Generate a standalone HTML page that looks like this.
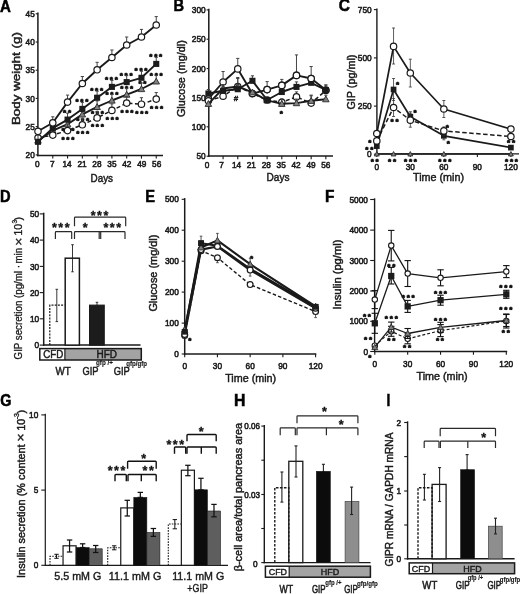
<!DOCTYPE html>
<html><head><meta charset="utf-8"><title>Figure</title>
<style>html,body{margin:0;padding:0;background:#fff}svg{display:block}</style></head>
<body>
<svg width="520" height="594" viewBox="0 0 520 594" font-family='"Liberation Sans", sans-serif'>
<rect width="520" height="594" fill="#fff"/>
<text x="0.00" y="11.50" font-size="15.8" text-anchor="start" font-weight="bold" textLength="10.9" lengthAdjust="spacingAndGlyphs" fill="#000" stroke="#000" stroke-width="0.5">A</text>
<line x1="37.90" y1="12.60" x2="37.90" y2="156.15" stroke="#1a1a1a" stroke-width="1.5" stroke-linecap="butt"/>
<line x1="37.15" y1="155.40" x2="163.00" y2="155.40" stroke="#1a1a1a" stroke-width="1.5" stroke-linecap="butt"/>
<line x1="35.70" y1="13.80" x2="37.90" y2="13.80" stroke="#1a1a1a" stroke-width="1.1" stroke-linecap="butt"/>
<text x="34.80" y="16.97" font-size="8.8" text-anchor="end" textLength="9.2" lengthAdjust="spacingAndGlyphs" fill="#1a1a1a" stroke="#1a1a1a" stroke-width="0.55">45</text>
<line x1="35.70" y1="42.00" x2="37.90" y2="42.00" stroke="#1a1a1a" stroke-width="1.1" stroke-linecap="butt"/>
<text x="34.80" y="45.17" font-size="8.8" text-anchor="end" textLength="9.2" lengthAdjust="spacingAndGlyphs" fill="#1a1a1a" stroke="#1a1a1a" stroke-width="0.55">40</text>
<line x1="35.70" y1="70.20" x2="37.90" y2="70.20" stroke="#1a1a1a" stroke-width="1.1" stroke-linecap="butt"/>
<text x="34.80" y="73.37" font-size="8.8" text-anchor="end" textLength="9.2" lengthAdjust="spacingAndGlyphs" fill="#1a1a1a" stroke="#1a1a1a" stroke-width="0.55">35</text>
<line x1="35.70" y1="98.40" x2="37.90" y2="98.40" stroke="#1a1a1a" stroke-width="1.1" stroke-linecap="butt"/>
<text x="34.80" y="101.57" font-size="8.8" text-anchor="end" textLength="9.2" lengthAdjust="spacingAndGlyphs" fill="#1a1a1a" stroke="#1a1a1a" stroke-width="0.55">30</text>
<line x1="35.70" y1="126.60" x2="37.90" y2="126.60" stroke="#1a1a1a" stroke-width="1.1" stroke-linecap="butt"/>
<text x="34.80" y="129.77" font-size="8.8" text-anchor="end" textLength="9.2" lengthAdjust="spacingAndGlyphs" fill="#1a1a1a" stroke="#1a1a1a" stroke-width="0.55">25</text>
<line x1="35.70" y1="154.90" x2="37.90" y2="154.90" stroke="#1a1a1a" stroke-width="1.1" stroke-linecap="butt"/>
<text x="34.80" y="158.07" font-size="8.8" text-anchor="end" textLength="9.2" lengthAdjust="spacingAndGlyphs" fill="#1a1a1a" stroke="#1a1a1a" stroke-width="0.55">20</text>
<line x1="52.78" y1="155.40" x2="52.78" y2="158.60" stroke="#1a1a1a" stroke-width="1.1" stroke-linecap="butt"/>
<text x="52.18" y="167.37" font-size="8.8" text-anchor="middle" textLength="4.6" lengthAdjust="spacingAndGlyphs" fill="#1a1a1a" stroke="#1a1a1a" stroke-width="0.55">7</text>
<line x1="67.56" y1="155.40" x2="67.56" y2="158.60" stroke="#1a1a1a" stroke-width="1.1" stroke-linecap="butt"/>
<text x="67.11" y="167.37" font-size="8.8" text-anchor="middle" textLength="9.2" lengthAdjust="spacingAndGlyphs" fill="#1a1a1a" stroke="#1a1a1a" stroke-width="0.55">14</text>
<line x1="82.34" y1="155.40" x2="82.34" y2="158.60" stroke="#1a1a1a" stroke-width="1.1" stroke-linecap="butt"/>
<text x="82.04" y="167.37" font-size="8.8" text-anchor="middle" textLength="9.2" lengthAdjust="spacingAndGlyphs" fill="#1a1a1a" stroke="#1a1a1a" stroke-width="0.55">21</text>
<line x1="97.12" y1="155.40" x2="97.12" y2="158.60" stroke="#1a1a1a" stroke-width="1.1" stroke-linecap="butt"/>
<text x="96.97" y="167.37" font-size="8.8" text-anchor="middle" textLength="9.2" lengthAdjust="spacingAndGlyphs" fill="#1a1a1a" stroke="#1a1a1a" stroke-width="0.55">28</text>
<line x1="111.90" y1="155.40" x2="111.90" y2="158.60" stroke="#1a1a1a" stroke-width="1.1" stroke-linecap="butt"/>
<text x="111.90" y="167.37" font-size="8.8" text-anchor="middle" textLength="9.2" lengthAdjust="spacingAndGlyphs" fill="#1a1a1a" stroke="#1a1a1a" stroke-width="0.55">35</text>
<line x1="126.68" y1="155.40" x2="126.68" y2="158.60" stroke="#1a1a1a" stroke-width="1.1" stroke-linecap="butt"/>
<text x="126.83" y="167.37" font-size="8.8" text-anchor="middle" textLength="9.2" lengthAdjust="spacingAndGlyphs" fill="#1a1a1a" stroke="#1a1a1a" stroke-width="0.55">42</text>
<line x1="141.46" y1="155.40" x2="141.46" y2="158.60" stroke="#1a1a1a" stroke-width="1.1" stroke-linecap="butt"/>
<text x="141.76" y="167.37" font-size="8.8" text-anchor="middle" textLength="9.2" lengthAdjust="spacingAndGlyphs" fill="#1a1a1a" stroke="#1a1a1a" stroke-width="0.55">49</text>
<line x1="156.24" y1="155.40" x2="156.24" y2="158.60" stroke="#1a1a1a" stroke-width="1.1" stroke-linecap="butt"/>
<text x="156.69" y="167.37" font-size="8.8" text-anchor="middle" textLength="9.2" lengthAdjust="spacingAndGlyphs" fill="#1a1a1a" stroke="#1a1a1a" stroke-width="0.55">56</text>
<text x="37.40" y="167.37" font-size="8.8" text-anchor="middle" textLength="4.6" lengthAdjust="spacingAndGlyphs" fill="#1a1a1a" stroke="#1a1a1a" stroke-width="0.55">0</text>
<text x="19.80" y="78.60" font-size="10" text-anchor="middle" transform="rotate(-90 19.80 78.60)" textLength="93.0" lengthAdjust="spacingAndGlyphs" fill="#1a1a1a" stroke="#1a1a1a" stroke-width="0.45">Body weight (g)</text>
<text x="101.80" y="181.60" font-size="10.5" text-anchor="middle" textLength="22.5" lengthAdjust="spacingAndGlyphs" fill="#1a1a1a" stroke="#1a1a1a" stroke-width="0.45">Days</text>
<text x="64.61 69.51" y="115.08" font-size="8" font-weight="bold" text-anchor="middle" fill="#111" stroke="#111" stroke-width="0.7">**</text>
<text x="62.96 67.86 72.76" y="132.98" font-size="8" font-weight="bold" text-anchor="middle" fill="#111" stroke="#111" stroke-width="0.7">***</text>
<text x="62.96 67.86 72.76" y="142.18" font-size="8" font-weight="bold" text-anchor="middle" fill="#111" stroke="#111" stroke-width="0.7">***</text>
<text x="76.94 81.84 86.74" y="104.38" font-size="8" font-weight="bold" text-anchor="middle" fill="#111" stroke="#111" stroke-width="0.7">***</text>
<text x="77.74 82.64 87.54" y="123.18" font-size="8" font-weight="bold" text-anchor="middle" fill="#111" stroke="#111" stroke-width="0.7">***</text>
<text x="77.74 82.64 87.54" y="136.38" font-size="8" font-weight="bold" text-anchor="middle" fill="#111" stroke="#111" stroke-width="0.7">***</text>
<text x="91.72 96.62 101.52" y="93.18" font-size="8" font-weight="bold" text-anchor="middle" fill="#111" stroke="#111" stroke-width="0.7">***</text>
<text x="92.52 97.42 102.32" y="115.68" font-size="8" font-weight="bold" text-anchor="middle" fill="#111" stroke="#111" stroke-width="0.7">***</text>
<text x="92.52 97.42 102.32" y="129.48" font-size="8" font-weight="bold" text-anchor="middle" fill="#111" stroke="#111" stroke-width="0.7">***</text>
<text x="106.50 111.40 116.30" y="82.38" font-size="8" font-weight="bold" text-anchor="middle" fill="#111" stroke="#111" stroke-width="0.7">***</text>
<text x="107.00 111.90 116.80" y="97.18" font-size="8" font-weight="bold" text-anchor="middle" fill="#111" stroke="#111" stroke-width="0.7">***</text>
<text x="107.30 112.20 117.10" y="121.98" font-size="8" font-weight="bold" text-anchor="middle" fill="#111" stroke="#111" stroke-width="0.7">***</text>
<text x="121.28 126.18 131.08" y="77.58" font-size="8" font-weight="bold" text-anchor="middle" fill="#111" stroke="#111" stroke-width="0.7">***</text>
<text x="121.78 126.68 131.58" y="91.28" font-size="8" font-weight="bold" text-anchor="middle" fill="#111" stroke="#111" stroke-width="0.7">***</text>
<text x="122.08 126.98 131.88" y="114.68" font-size="8" font-weight="bold" text-anchor="middle" fill="#111" stroke="#111" stroke-width="0.7">***</text>
<text x="136.06 140.96 145.86" y="73.28" font-size="8" font-weight="bold" text-anchor="middle" fill="#111" stroke="#111" stroke-width="0.7">***</text>
<text x="140.01 144.91" y="85.68" font-size="8" font-weight="bold" text-anchor="middle" fill="#111" stroke="#111" stroke-width="0.7">**</text>
<text x="136.86 141.76 146.66" y="115.78" font-size="8" font-weight="bold" text-anchor="middle" fill="#111" stroke="#111" stroke-width="0.7">***</text>
<text x="150.84 155.74 160.64" y="59.38" font-size="8" font-weight="bold" text-anchor="middle" fill="#111" stroke="#111" stroke-width="0.7">***</text>
<text x="151.34 156.24 161.14" y="78.08" font-size="8" font-weight="bold" text-anchor="middle" fill="#111" stroke="#111" stroke-width="0.7">***</text>
<text x="151.64 156.54 161.44" y="110.68" font-size="8" font-weight="bold" text-anchor="middle" fill="#111" stroke="#111" stroke-width="0.7">***</text>
<line x1="38.00" y1="134.50" x2="38.00" y2="140.50" stroke="#444" stroke-width="1.0" stroke-linecap="butt"/>
<line x1="36.40" y1="134.50" x2="39.60" y2="134.50" stroke="#444" stroke-width="1.0" stroke-linecap="butt"/>
<line x1="36.40" y1="140.50" x2="39.60" y2="140.50" stroke="#444" stroke-width="1.0" stroke-linecap="butt"/>
<line x1="52.78" y1="124.60" x2="52.78" y2="130.60" stroke="#444" stroke-width="1.0" stroke-linecap="butt"/>
<line x1="51.18" y1="124.60" x2="54.38" y2="124.60" stroke="#444" stroke-width="1.0" stroke-linecap="butt"/>
<line x1="51.18" y1="130.60" x2="54.38" y2="130.60" stroke="#444" stroke-width="1.0" stroke-linecap="butt"/>
<line x1="67.56" y1="118.20" x2="67.56" y2="124.20" stroke="#444" stroke-width="1.0" stroke-linecap="butt"/>
<line x1="65.96" y1="118.20" x2="69.16" y2="118.20" stroke="#444" stroke-width="1.0" stroke-linecap="butt"/>
<line x1="65.96" y1="124.20" x2="69.16" y2="124.20" stroke="#444" stroke-width="1.0" stroke-linecap="butt"/>
<line x1="82.34" y1="108.40" x2="82.34" y2="114.40" stroke="#444" stroke-width="1.0" stroke-linecap="butt"/>
<line x1="80.74" y1="108.40" x2="83.94" y2="108.40" stroke="#444" stroke-width="1.0" stroke-linecap="butt"/>
<line x1="80.74" y1="114.40" x2="83.94" y2="114.40" stroke="#444" stroke-width="1.0" stroke-linecap="butt"/>
<line x1="97.12" y1="100.90" x2="97.12" y2="106.90" stroke="#444" stroke-width="1.0" stroke-linecap="butt"/>
<line x1="95.52" y1="100.90" x2="98.72" y2="100.90" stroke="#444" stroke-width="1.0" stroke-linecap="butt"/>
<line x1="95.52" y1="106.90" x2="98.72" y2="106.90" stroke="#444" stroke-width="1.0" stroke-linecap="butt"/>
<line x1="111.90" y1="94.50" x2="111.90" y2="100.50" stroke="#444" stroke-width="1.0" stroke-linecap="butt"/>
<line x1="110.30" y1="94.50" x2="113.50" y2="94.50" stroke="#444" stroke-width="1.0" stroke-linecap="butt"/>
<line x1="110.30" y1="100.50" x2="113.50" y2="100.50" stroke="#444" stroke-width="1.0" stroke-linecap="butt"/>
<line x1="126.68" y1="88.60" x2="126.68" y2="94.60" stroke="#444" stroke-width="1.0" stroke-linecap="butt"/>
<line x1="125.08" y1="88.60" x2="128.28" y2="88.60" stroke="#444" stroke-width="1.0" stroke-linecap="butt"/>
<line x1="125.08" y1="94.60" x2="128.28" y2="94.60" stroke="#444" stroke-width="1.0" stroke-linecap="butt"/>
<line x1="141.46" y1="83.00" x2="141.46" y2="89.00" stroke="#444" stroke-width="1.0" stroke-linecap="butt"/>
<line x1="139.86" y1="83.00" x2="143.06" y2="83.00" stroke="#444" stroke-width="1.0" stroke-linecap="butt"/>
<line x1="139.86" y1="89.00" x2="143.06" y2="89.00" stroke="#444" stroke-width="1.0" stroke-linecap="butt"/>
<line x1="156.24" y1="75.40" x2="156.24" y2="81.40" stroke="#444" stroke-width="1.0" stroke-linecap="butt"/>
<line x1="154.64" y1="75.40" x2="157.84" y2="75.40" stroke="#444" stroke-width="1.0" stroke-linecap="butt"/>
<line x1="154.64" y1="81.40" x2="157.84" y2="81.40" stroke="#444" stroke-width="1.0" stroke-linecap="butt"/>
<polyline points="38.00,140.50 52.78,130.60 67.56,124.20 82.34,114.40 97.12,106.90 111.90,100.50 126.68,94.60 141.46,89.00 156.24,81.40" fill="none" stroke="#1a1a1a" stroke-width="1.9" stroke-linejoin="round"/>
<polygon points="38.00,137.24 34.74,143.11 41.26,143.11" fill="#808080" stroke="#2a2a2a" stroke-width="0.9" stroke-linejoin="round"/>
<polygon points="52.78,127.34 49.52,133.21 56.04,133.21" fill="#808080" stroke="#2a2a2a" stroke-width="0.9" stroke-linejoin="round"/>
<polygon points="67.56,120.94 64.30,126.81 70.82,126.81" fill="#808080" stroke="#2a2a2a" stroke-width="0.9" stroke-linejoin="round"/>
<polygon points="82.34,111.14 79.08,117.01 85.60,117.01" fill="#808080" stroke="#2a2a2a" stroke-width="0.9" stroke-linejoin="round"/>
<polygon points="97.12,103.64 93.86,109.51 100.38,109.51" fill="#808080" stroke="#2a2a2a" stroke-width="0.9" stroke-linejoin="round"/>
<polygon points="111.90,97.24 108.64,103.11 115.16,103.11" fill="#808080" stroke="#2a2a2a" stroke-width="0.9" stroke-linejoin="round"/>
<polygon points="126.68,91.34 123.42,97.21 129.94,97.21" fill="#808080" stroke="#2a2a2a" stroke-width="0.9" stroke-linejoin="round"/>
<polygon points="141.46,85.74 138.20,91.61 144.72,91.61" fill="#808080" stroke="#2a2a2a" stroke-width="0.9" stroke-linejoin="round"/>
<polygon points="156.24,78.14 152.98,84.01 159.50,84.01" fill="#808080" stroke="#2a2a2a" stroke-width="0.9" stroke-linejoin="round"/>
<line x1="38.00" y1="131.30" x2="38.00" y2="137.80" stroke="#444" stroke-width="1.0" stroke-linecap="butt"/>
<line x1="36.40" y1="131.30" x2="39.60" y2="131.30" stroke="#444" stroke-width="1.0" stroke-linecap="butt"/>
<line x1="36.40" y1="137.80" x2="39.60" y2="137.80" stroke="#444" stroke-width="1.0" stroke-linecap="butt"/>
<line x1="52.78" y1="128.60" x2="52.78" y2="135.10" stroke="#444" stroke-width="1.0" stroke-linecap="butt"/>
<line x1="51.18" y1="128.60" x2="54.38" y2="128.60" stroke="#444" stroke-width="1.0" stroke-linecap="butt"/>
<line x1="51.18" y1="135.10" x2="54.38" y2="135.10" stroke="#444" stroke-width="1.0" stroke-linecap="butt"/>
<line x1="67.56" y1="124.10" x2="67.56" y2="130.60" stroke="#444" stroke-width="1.0" stroke-linecap="butt"/>
<line x1="65.96" y1="124.10" x2="69.16" y2="124.10" stroke="#444" stroke-width="1.0" stroke-linecap="butt"/>
<line x1="65.96" y1="130.60" x2="69.16" y2="130.60" stroke="#444" stroke-width="1.0" stroke-linecap="butt"/>
<line x1="82.34" y1="118.30" x2="82.34" y2="124.80" stroke="#444" stroke-width="1.0" stroke-linecap="butt"/>
<line x1="80.74" y1="118.30" x2="83.94" y2="118.30" stroke="#444" stroke-width="1.0" stroke-linecap="butt"/>
<line x1="80.74" y1="124.80" x2="83.94" y2="124.80" stroke="#444" stroke-width="1.0" stroke-linecap="butt"/>
<line x1="97.12" y1="111.40" x2="97.12" y2="117.90" stroke="#444" stroke-width="1.0" stroke-linecap="butt"/>
<line x1="95.52" y1="111.40" x2="98.72" y2="111.40" stroke="#444" stroke-width="1.0" stroke-linecap="butt"/>
<line x1="95.52" y1="117.90" x2="98.72" y2="117.90" stroke="#444" stroke-width="1.0" stroke-linecap="butt"/>
<line x1="111.90" y1="103.90" x2="111.90" y2="110.40" stroke="#444" stroke-width="1.0" stroke-linecap="butt"/>
<line x1="110.30" y1="103.90" x2="113.50" y2="103.90" stroke="#444" stroke-width="1.0" stroke-linecap="butt"/>
<line x1="110.30" y1="110.40" x2="113.50" y2="110.40" stroke="#444" stroke-width="1.0" stroke-linecap="butt"/>
<line x1="126.68" y1="96.60" x2="126.68" y2="103.10" stroke="#444" stroke-width="1.0" stroke-linecap="butt"/>
<line x1="125.08" y1="96.60" x2="128.28" y2="96.60" stroke="#444" stroke-width="1.0" stroke-linecap="butt"/>
<line x1="125.08" y1="103.10" x2="128.28" y2="103.10" stroke="#444" stroke-width="1.0" stroke-linecap="butt"/>
<line x1="141.46" y1="97.70" x2="141.46" y2="104.20" stroke="#444" stroke-width="1.0" stroke-linecap="butt"/>
<line x1="139.86" y1="97.70" x2="143.06" y2="97.70" stroke="#444" stroke-width="1.0" stroke-linecap="butt"/>
<line x1="139.86" y1="104.20" x2="143.06" y2="104.20" stroke="#444" stroke-width="1.0" stroke-linecap="butt"/>
<line x1="156.24" y1="92.60" x2="156.24" y2="99.10" stroke="#444" stroke-width="1.0" stroke-linecap="butt"/>
<line x1="154.64" y1="92.60" x2="157.84" y2="92.60" stroke="#444" stroke-width="1.0" stroke-linecap="butt"/>
<line x1="154.64" y1="99.10" x2="157.84" y2="99.10" stroke="#444" stroke-width="1.0" stroke-linecap="butt"/>
<polyline points="38.00,137.80 52.78,135.10 67.56,130.60 82.34,124.80 97.12,117.90 111.90,110.40 126.68,103.10 141.46,104.20 156.24,99.10" fill="none" stroke="#1a1a1a" stroke-width="1.5" stroke-dasharray="4 2.5" stroke-linejoin="round"/>
<circle cx="38.00" cy="137.80" r="3.2" fill="#fff" stroke="#1a1a1a" stroke-width="1.2"/>
<circle cx="52.78" cy="135.10" r="3.2" fill="#fff" stroke="#1a1a1a" stroke-width="1.2"/>
<circle cx="67.56" cy="130.60" r="3.2" fill="#fff" stroke="#1a1a1a" stroke-width="1.2"/>
<circle cx="82.34" cy="124.80" r="3.2" fill="#fff" stroke="#1a1a1a" stroke-width="1.2"/>
<circle cx="97.12" cy="117.90" r="3.2" fill="#fff" stroke="#1a1a1a" stroke-width="1.2"/>
<circle cx="111.90" cy="110.40" r="3.2" fill="#fff" stroke="#1a1a1a" stroke-width="1.2"/>
<circle cx="126.68" cy="103.10" r="3.2" fill="#fff" stroke="#1a1a1a" stroke-width="1.2"/>
<circle cx="141.46" cy="104.20" r="3.2" fill="#fff" stroke="#1a1a1a" stroke-width="1.2"/>
<circle cx="156.24" cy="99.10" r="3.2" fill="#fff" stroke="#1a1a1a" stroke-width="1.2"/>
<line x1="38.00" y1="135.30" x2="38.00" y2="141.80" stroke="#444" stroke-width="1.0" stroke-linecap="butt"/>
<line x1="36.40" y1="135.30" x2="39.60" y2="135.30" stroke="#444" stroke-width="1.0" stroke-linecap="butt"/>
<line x1="36.40" y1="141.80" x2="39.60" y2="141.80" stroke="#444" stroke-width="1.0" stroke-linecap="butt"/>
<line x1="52.78" y1="121.60" x2="52.78" y2="128.10" stroke="#444" stroke-width="1.0" stroke-linecap="butt"/>
<line x1="51.18" y1="121.60" x2="54.38" y2="121.60" stroke="#444" stroke-width="1.0" stroke-linecap="butt"/>
<line x1="51.18" y1="128.10" x2="54.38" y2="128.10" stroke="#444" stroke-width="1.0" stroke-linecap="butt"/>
<line x1="67.56" y1="113.10" x2="67.56" y2="119.60" stroke="#444" stroke-width="1.0" stroke-linecap="butt"/>
<line x1="65.96" y1="113.10" x2="69.16" y2="113.10" stroke="#444" stroke-width="1.0" stroke-linecap="butt"/>
<line x1="65.96" y1="119.60" x2="69.16" y2="119.60" stroke="#444" stroke-width="1.0" stroke-linecap="butt"/>
<line x1="82.34" y1="102.40" x2="82.34" y2="108.90" stroke="#444" stroke-width="1.0" stroke-linecap="butt"/>
<line x1="80.74" y1="102.40" x2="83.94" y2="102.40" stroke="#444" stroke-width="1.0" stroke-linecap="butt"/>
<line x1="80.74" y1="108.90" x2="83.94" y2="108.90" stroke="#444" stroke-width="1.0" stroke-linecap="butt"/>
<line x1="97.12" y1="91.20" x2="97.12" y2="97.70" stroke="#444" stroke-width="1.0" stroke-linecap="butt"/>
<line x1="95.52" y1="91.20" x2="98.72" y2="91.20" stroke="#444" stroke-width="1.0" stroke-linecap="butt"/>
<line x1="95.52" y1="97.70" x2="98.72" y2="97.70" stroke="#444" stroke-width="1.0" stroke-linecap="butt"/>
<line x1="111.90" y1="80.40" x2="111.90" y2="86.90" stroke="#444" stroke-width="1.0" stroke-linecap="butt"/>
<line x1="110.30" y1="80.40" x2="113.50" y2="80.40" stroke="#444" stroke-width="1.0" stroke-linecap="butt"/>
<line x1="110.30" y1="86.90" x2="113.50" y2="86.90" stroke="#444" stroke-width="1.0" stroke-linecap="butt"/>
<line x1="126.68" y1="75.60" x2="126.68" y2="82.10" stroke="#444" stroke-width="1.0" stroke-linecap="butt"/>
<line x1="125.08" y1="75.60" x2="128.28" y2="75.60" stroke="#444" stroke-width="1.0" stroke-linecap="butt"/>
<line x1="125.08" y1="82.10" x2="128.28" y2="82.10" stroke="#444" stroke-width="1.0" stroke-linecap="butt"/>
<line x1="141.46" y1="71.30" x2="141.46" y2="77.80" stroke="#444" stroke-width="1.0" stroke-linecap="butt"/>
<line x1="139.86" y1="71.30" x2="143.06" y2="71.30" stroke="#444" stroke-width="1.0" stroke-linecap="butt"/>
<line x1="139.86" y1="77.80" x2="143.06" y2="77.80" stroke="#444" stroke-width="1.0" stroke-linecap="butt"/>
<line x1="156.24" y1="57.40" x2="156.24" y2="63.90" stroke="#444" stroke-width="1.0" stroke-linecap="butt"/>
<line x1="154.64" y1="57.40" x2="157.84" y2="57.40" stroke="#444" stroke-width="1.0" stroke-linecap="butt"/>
<line x1="154.64" y1="63.90" x2="157.84" y2="63.90" stroke="#444" stroke-width="1.0" stroke-linecap="butt"/>
<polyline points="38.00,141.80 52.78,128.10 67.56,119.60 82.34,108.90 97.12,97.70 111.90,86.90 126.68,82.10 141.46,77.80 156.24,63.90" fill="none" stroke="#1a1a1a" stroke-width="1.9" stroke-linejoin="round"/>
<rect x="34.96" y="138.76" width="6.08" height="6.08" fill="#1c1c1c"/>
<rect x="49.74" y="125.06" width="6.08" height="6.08" fill="#1c1c1c"/>
<rect x="64.52" y="116.56" width="6.08" height="6.08" fill="#1c1c1c"/>
<rect x="79.30" y="105.86" width="6.08" height="6.08" fill="#1c1c1c"/>
<rect x="94.08" y="94.66" width="6.08" height="6.08" fill="#1c1c1c"/>
<rect x="108.86" y="83.86" width="6.08" height="6.08" fill="#1c1c1c"/>
<rect x="123.64" y="79.06" width="6.08" height="6.08" fill="#1c1c1c"/>
<rect x="138.42" y="74.76" width="6.08" height="6.08" fill="#1c1c1c"/>
<rect x="153.20" y="60.86" width="6.08" height="6.08" fill="#1c1c1c"/>
<line x1="52.78" y1="116.80" x2="52.78" y2="122.80" stroke="#444" stroke-width="1.0" stroke-linecap="butt"/>
<line x1="51.18" y1="116.80" x2="54.38" y2="116.80" stroke="#444" stroke-width="1.0" stroke-linecap="butt"/>
<line x1="51.18" y1="122.80" x2="54.38" y2="122.80" stroke="#444" stroke-width="1.0" stroke-linecap="butt"/>
<line x1="67.56" y1="95.10" x2="67.56" y2="102.10" stroke="#444" stroke-width="1.0" stroke-linecap="butt"/>
<line x1="65.96" y1="95.10" x2="69.16" y2="95.10" stroke="#444" stroke-width="1.0" stroke-linecap="butt"/>
<line x1="65.96" y1="102.10" x2="69.16" y2="102.10" stroke="#444" stroke-width="1.0" stroke-linecap="butt"/>
<line x1="82.34" y1="76.50" x2="82.34" y2="83.50" stroke="#444" stroke-width="1.0" stroke-linecap="butt"/>
<line x1="80.74" y1="76.50" x2="83.94" y2="76.50" stroke="#444" stroke-width="1.0" stroke-linecap="butt"/>
<line x1="80.74" y1="83.50" x2="83.94" y2="83.50" stroke="#444" stroke-width="1.0" stroke-linecap="butt"/>
<line x1="97.12" y1="62.30" x2="97.12" y2="69.80" stroke="#444" stroke-width="1.0" stroke-linecap="butt"/>
<line x1="95.52" y1="62.30" x2="98.72" y2="62.30" stroke="#444" stroke-width="1.0" stroke-linecap="butt"/>
<line x1="95.52" y1="69.80" x2="98.72" y2="69.80" stroke="#444" stroke-width="1.0" stroke-linecap="butt"/>
<line x1="111.90" y1="50.00" x2="111.90" y2="57.50" stroke="#444" stroke-width="1.0" stroke-linecap="butt"/>
<line x1="110.30" y1="50.00" x2="113.50" y2="50.00" stroke="#444" stroke-width="1.0" stroke-linecap="butt"/>
<line x1="110.30" y1="57.50" x2="113.50" y2="57.50" stroke="#444" stroke-width="1.0" stroke-linecap="butt"/>
<line x1="126.68" y1="37.00" x2="126.68" y2="45.00" stroke="#444" stroke-width="1.0" stroke-linecap="butt"/>
<line x1="125.08" y1="37.00" x2="128.28" y2="37.00" stroke="#444" stroke-width="1.0" stroke-linecap="butt"/>
<line x1="125.08" y1="45.00" x2="128.28" y2="45.00" stroke="#444" stroke-width="1.0" stroke-linecap="butt"/>
<line x1="141.46" y1="29.40" x2="141.46" y2="37.00" stroke="#444" stroke-width="1.0" stroke-linecap="butt"/>
<line x1="139.86" y1="29.40" x2="143.06" y2="29.40" stroke="#444" stroke-width="1.0" stroke-linecap="butt"/>
<line x1="139.86" y1="37.00" x2="143.06" y2="37.00" stroke="#444" stroke-width="1.0" stroke-linecap="butt"/>
<line x1="156.24" y1="16.60" x2="156.24" y2="25.00" stroke="#444" stroke-width="1.0" stroke-linecap="butt"/>
<line x1="154.64" y1="16.60" x2="157.84" y2="16.60" stroke="#444" stroke-width="1.0" stroke-linecap="butt"/>
<line x1="154.64" y1="25.00" x2="157.84" y2="25.00" stroke="#444" stroke-width="1.0" stroke-linecap="butt"/>
<polyline points="38.00,131.30 52.78,122.80 67.56,102.10 82.34,83.50 97.12,69.80 111.90,57.50 126.68,45.00 141.46,37.00 156.24,25.00" fill="none" stroke="#1a1a1a" stroke-width="1.9" stroke-linejoin="round"/>
<circle cx="38.00" cy="131.30" r="3.2" fill="#fff" stroke="#1a1a1a" stroke-width="1.2"/>
<circle cx="52.78" cy="122.80" r="3.2" fill="#fff" stroke="#1a1a1a" stroke-width="1.2"/>
<circle cx="67.56" cy="102.10" r="3.2" fill="#fff" stroke="#1a1a1a" stroke-width="1.2"/>
<circle cx="82.34" cy="83.50" r="3.2" fill="#fff" stroke="#1a1a1a" stroke-width="1.2"/>
<circle cx="97.12" cy="69.80" r="3.2" fill="#fff" stroke="#1a1a1a" stroke-width="1.2"/>
<circle cx="111.90" cy="57.50" r="3.2" fill="#fff" stroke="#1a1a1a" stroke-width="1.2"/>
<circle cx="126.68" cy="45.00" r="3.2" fill="#fff" stroke="#1a1a1a" stroke-width="1.2"/>
<circle cx="141.46" cy="37.00" r="3.2" fill="#fff" stroke="#1a1a1a" stroke-width="1.2"/>
<circle cx="156.24" cy="25.00" r="3.2" fill="#fff" stroke="#1a1a1a" stroke-width="1.2"/>
<text x="173.40" y="11.20" font-size="15.8" text-anchor="start" font-weight="bold" textLength="10.6" lengthAdjust="spacingAndGlyphs" fill="#000" stroke="#000" stroke-width="0.5">B</text>
<line x1="208.80" y1="8.70" x2="208.80" y2="156.75" stroke="#1a1a1a" stroke-width="1.5" stroke-linecap="butt"/>
<line x1="208.05" y1="156.00" x2="333.00" y2="156.00" stroke="#1a1a1a" stroke-width="1.5" stroke-linecap="butt"/>
<line x1="206.60" y1="9.90" x2="208.80" y2="9.90" stroke="#1a1a1a" stroke-width="1.1" stroke-linecap="butt"/>
<text x="205.70" y="13.07" font-size="8.8" text-anchor="end" textLength="13.9" lengthAdjust="spacingAndGlyphs" fill="#1a1a1a" stroke="#1a1a1a" stroke-width="0.55">300</text>
<line x1="206.60" y1="39.20" x2="208.80" y2="39.20" stroke="#1a1a1a" stroke-width="1.1" stroke-linecap="butt"/>
<text x="205.70" y="42.37" font-size="8.8" text-anchor="end" textLength="13.9" lengthAdjust="spacingAndGlyphs" fill="#1a1a1a" stroke="#1a1a1a" stroke-width="0.55">250</text>
<line x1="206.60" y1="68.60" x2="208.80" y2="68.60" stroke="#1a1a1a" stroke-width="1.1" stroke-linecap="butt"/>
<text x="205.70" y="71.77" font-size="8.8" text-anchor="end" textLength="13.9" lengthAdjust="spacingAndGlyphs" fill="#1a1a1a" stroke="#1a1a1a" stroke-width="0.55">200</text>
<line x1="206.60" y1="97.90" x2="208.80" y2="97.90" stroke="#1a1a1a" stroke-width="1.1" stroke-linecap="butt"/>
<text x="205.70" y="101.07" font-size="8.8" text-anchor="end" textLength="13.9" lengthAdjust="spacingAndGlyphs" fill="#1a1a1a" stroke="#1a1a1a" stroke-width="0.55">150</text>
<line x1="206.60" y1="126.80" x2="208.80" y2="126.80" stroke="#1a1a1a" stroke-width="1.1" stroke-linecap="butt"/>
<text x="205.70" y="129.97" font-size="8.8" text-anchor="end" textLength="13.9" lengthAdjust="spacingAndGlyphs" fill="#1a1a1a" stroke="#1a1a1a" stroke-width="0.55">100</text>
<line x1="206.60" y1="156.20" x2="208.80" y2="156.20" stroke="#1a1a1a" stroke-width="1.1" stroke-linecap="butt"/>
<text x="205.70" y="159.37" font-size="8.8" text-anchor="end" textLength="9.2" lengthAdjust="spacingAndGlyphs" fill="#1a1a1a" stroke="#1a1a1a" stroke-width="0.55">50</text>
<line x1="223.08" y1="156.00" x2="223.08" y2="159.20" stroke="#1a1a1a" stroke-width="1.1" stroke-linecap="butt"/>
<text x="221.58" y="168.27" font-size="8.8" text-anchor="middle" textLength="4.6" lengthAdjust="spacingAndGlyphs" fill="#1a1a1a" stroke="#1a1a1a" stroke-width="0.55">7</text>
<line x1="237.76" y1="156.00" x2="237.76" y2="159.20" stroke="#1a1a1a" stroke-width="1.1" stroke-linecap="butt"/>
<text x="236.48" y="168.27" font-size="8.8" text-anchor="middle" textLength="9.2" lengthAdjust="spacingAndGlyphs" fill="#1a1a1a" stroke="#1a1a1a" stroke-width="0.55">14</text>
<line x1="252.44" y1="156.00" x2="252.44" y2="159.20" stroke="#1a1a1a" stroke-width="1.1" stroke-linecap="butt"/>
<text x="251.38" y="168.27" font-size="8.8" text-anchor="middle" textLength="9.2" lengthAdjust="spacingAndGlyphs" fill="#1a1a1a" stroke="#1a1a1a" stroke-width="0.55">21</text>
<line x1="267.12" y1="156.00" x2="267.12" y2="159.20" stroke="#1a1a1a" stroke-width="1.1" stroke-linecap="butt"/>
<text x="266.28" y="168.27" font-size="8.8" text-anchor="middle" textLength="9.2" lengthAdjust="spacingAndGlyphs" fill="#1a1a1a" stroke="#1a1a1a" stroke-width="0.55">28</text>
<line x1="281.80" y1="156.00" x2="281.80" y2="159.20" stroke="#1a1a1a" stroke-width="1.1" stroke-linecap="butt"/>
<text x="281.18" y="168.27" font-size="8.8" text-anchor="middle" textLength="9.2" lengthAdjust="spacingAndGlyphs" fill="#1a1a1a" stroke="#1a1a1a" stroke-width="0.55">35</text>
<line x1="296.48" y1="156.00" x2="296.48" y2="159.20" stroke="#1a1a1a" stroke-width="1.1" stroke-linecap="butt"/>
<text x="296.08" y="168.27" font-size="8.8" text-anchor="middle" textLength="9.2" lengthAdjust="spacingAndGlyphs" fill="#1a1a1a" stroke="#1a1a1a" stroke-width="0.55">42</text>
<line x1="311.16" y1="156.00" x2="311.16" y2="159.20" stroke="#1a1a1a" stroke-width="1.1" stroke-linecap="butt"/>
<text x="310.98" y="168.27" font-size="8.8" text-anchor="middle" textLength="9.2" lengthAdjust="spacingAndGlyphs" fill="#1a1a1a" stroke="#1a1a1a" stroke-width="0.55">49</text>
<line x1="325.84" y1="156.00" x2="325.84" y2="159.20" stroke="#1a1a1a" stroke-width="1.1" stroke-linecap="butt"/>
<text x="325.88" y="168.27" font-size="8.8" text-anchor="middle" textLength="9.2" lengthAdjust="spacingAndGlyphs" fill="#1a1a1a" stroke="#1a1a1a" stroke-width="0.55">56</text>
<text x="207.00" y="168.27" font-size="8.8" text-anchor="middle" textLength="4.6" lengthAdjust="spacingAndGlyphs" fill="#1a1a1a" stroke="#1a1a1a" stroke-width="0.55">0</text>
<text x="185.20" y="78.60" font-size="10.5" text-anchor="middle" transform="rotate(-90 185.20 78.60)" textLength="77.0" lengthAdjust="spacingAndGlyphs" fill="#1a1a1a" stroke="#1a1a1a" stroke-width="0.45">Glucose (mg/dl)</text>
<text x="278.00" y="181.00" font-size="10.5" text-anchor="middle" textLength="23.0" lengthAdjust="spacingAndGlyphs" fill="#1a1a1a" stroke="#1a1a1a" stroke-width="0.45">Days</text>
<text x="236.00" y="101.00" font-size="8" text-anchor="middle" font-weight="bold" fill="#1a1a1a" stroke="#1a1a1a" stroke-width="0.45">#</text>
<text x="281.20" y="115.88" font-size="8" font-weight="bold" text-anchor="middle" fill="#111" stroke="#111" stroke-width="0.7">*</text>
<line x1="223.08" y1="71.50" x2="223.08" y2="82.00" stroke="#444" stroke-width="1.0" stroke-linecap="butt"/>
<line x1="221.48" y1="71.50" x2="224.68" y2="71.50" stroke="#444" stroke-width="1.0" stroke-linecap="butt"/>
<line x1="221.48" y1="82.00" x2="224.68" y2="82.00" stroke="#444" stroke-width="1.0" stroke-linecap="butt"/>
<line x1="237.76" y1="58.40" x2="237.76" y2="68.90" stroke="#444" stroke-width="1.0" stroke-linecap="butt"/>
<line x1="236.16" y1="58.40" x2="239.36" y2="58.40" stroke="#444" stroke-width="1.0" stroke-linecap="butt"/>
<line x1="236.16" y1="68.90" x2="239.36" y2="68.90" stroke="#444" stroke-width="1.0" stroke-linecap="butt"/>
<line x1="267.12" y1="81.60" x2="267.12" y2="89.60" stroke="#444" stroke-width="1.0" stroke-linecap="butt"/>
<line x1="265.52" y1="81.60" x2="268.72" y2="81.60" stroke="#444" stroke-width="1.0" stroke-linecap="butt"/>
<line x1="265.52" y1="89.60" x2="268.72" y2="89.60" stroke="#444" stroke-width="1.0" stroke-linecap="butt"/>
<line x1="281.80" y1="79.40" x2="281.80" y2="85.40" stroke="#444" stroke-width="1.0" stroke-linecap="butt"/>
<line x1="280.20" y1="79.40" x2="283.40" y2="79.40" stroke="#444" stroke-width="1.0" stroke-linecap="butt"/>
<line x1="280.20" y1="85.40" x2="283.40" y2="85.40" stroke="#444" stroke-width="1.0" stroke-linecap="butt"/>
<line x1="296.48" y1="54.90" x2="296.48" y2="75.40" stroke="#444" stroke-width="1.0" stroke-linecap="butt"/>
<line x1="294.88" y1="54.90" x2="298.08" y2="54.90" stroke="#444" stroke-width="1.0" stroke-linecap="butt"/>
<line x1="294.88" y1="75.40" x2="298.08" y2="75.40" stroke="#444" stroke-width="1.0" stroke-linecap="butt"/>
<line x1="311.16" y1="66.50" x2="311.16" y2="78.50" stroke="#444" stroke-width="1.0" stroke-linecap="butt"/>
<line x1="309.56" y1="66.50" x2="312.76" y2="66.50" stroke="#444" stroke-width="1.0" stroke-linecap="butt"/>
<line x1="309.56" y1="78.50" x2="312.76" y2="78.50" stroke="#444" stroke-width="1.0" stroke-linecap="butt"/>
<line x1="325.84" y1="85.00" x2="325.84" y2="90.00" stroke="#444" stroke-width="1.0" stroke-linecap="butt"/>
<line x1="324.24" y1="85.00" x2="327.44" y2="85.00" stroke="#444" stroke-width="1.0" stroke-linecap="butt"/>
<line x1="324.24" y1="90.00" x2="327.44" y2="90.00" stroke="#444" stroke-width="1.0" stroke-linecap="butt"/>
<polyline points="208.40,98.90 223.08,82.00 237.76,68.90 252.44,93.80 267.12,89.60 281.80,85.40 296.48,75.40 311.16,78.50 325.84,90.00" fill="none" stroke="#1a1a1a" stroke-width="1.9" stroke-linejoin="round"/>
<circle cx="208.40" cy="98.90" r="3.2" fill="#fff" stroke="#1a1a1a" stroke-width="1.2"/>
<circle cx="223.08" cy="82.00" r="3.2" fill="#fff" stroke="#1a1a1a" stroke-width="1.2"/>
<circle cx="237.76" cy="68.90" r="3.2" fill="#fff" stroke="#1a1a1a" stroke-width="1.2"/>
<circle cx="252.44" cy="93.80" r="3.2" fill="#fff" stroke="#1a1a1a" stroke-width="1.2"/>
<circle cx="267.12" cy="89.60" r="3.2" fill="#fff" stroke="#1a1a1a" stroke-width="1.2"/>
<circle cx="281.80" cy="85.40" r="3.2" fill="#fff" stroke="#1a1a1a" stroke-width="1.2"/>
<circle cx="296.48" cy="75.40" r="3.2" fill="#fff" stroke="#1a1a1a" stroke-width="1.2"/>
<circle cx="311.16" cy="78.50" r="3.2" fill="#fff" stroke="#1a1a1a" stroke-width="1.2"/>
<circle cx="325.84" cy="90.00" r="3.2" fill="#fff" stroke="#1a1a1a" stroke-width="1.2"/>
<line x1="237.76" y1="78.50" x2="237.76" y2="86.50" stroke="#444" stroke-width="1.0" stroke-linecap="butt"/>
<line x1="236.16" y1="78.50" x2="239.36" y2="78.50" stroke="#444" stroke-width="1.0" stroke-linecap="butt"/>
<line x1="236.16" y1="86.50" x2="239.36" y2="86.50" stroke="#444" stroke-width="1.0" stroke-linecap="butt"/>
<line x1="296.48" y1="91.90" x2="296.48" y2="96.90" stroke="#444" stroke-width="1.0" stroke-linecap="butt"/>
<line x1="294.88" y1="91.90" x2="298.08" y2="91.90" stroke="#444" stroke-width="1.0" stroke-linecap="butt"/>
<line x1="294.88" y1="96.90" x2="298.08" y2="96.90" stroke="#444" stroke-width="1.0" stroke-linecap="butt"/>
<line x1="311.16" y1="95.10" x2="311.16" y2="103.10" stroke="#444" stroke-width="1.0" stroke-linecap="butt"/>
<line x1="309.56" y1="95.10" x2="312.76" y2="95.10" stroke="#444" stroke-width="1.0" stroke-linecap="butt"/>
<line x1="309.56" y1="103.10" x2="312.76" y2="103.10" stroke="#444" stroke-width="1.0" stroke-linecap="butt"/>
<polyline points="208.40,100.80 223.08,96.20 237.76,86.50 252.44,93.50 267.12,100.00 281.80,102.30 296.48,96.90 311.16,103.10 325.84,90.50" fill="none" stroke="#1a1a1a" stroke-width="1.5" stroke-dasharray="4 2.5" stroke-linejoin="round"/>
<circle cx="208.40" cy="100.80" r="3.2" fill="#fff" stroke="#1a1a1a" stroke-width="1.2"/>
<circle cx="223.08" cy="96.20" r="3.2" fill="#fff" stroke="#1a1a1a" stroke-width="1.2"/>
<circle cx="237.76" cy="86.50" r="3.2" fill="#fff" stroke="#1a1a1a" stroke-width="1.2"/>
<circle cx="252.44" cy="93.50" r="3.2" fill="#fff" stroke="#1a1a1a" stroke-width="1.2"/>
<circle cx="267.12" cy="100.00" r="3.2" fill="#fff" stroke="#1a1a1a" stroke-width="1.2"/>
<circle cx="281.80" cy="102.30" r="3.2" fill="#fff" stroke="#1a1a1a" stroke-width="1.2"/>
<circle cx="296.48" cy="96.90" r="3.2" fill="#fff" stroke="#1a1a1a" stroke-width="1.2"/>
<circle cx="311.16" cy="103.10" r="3.2" fill="#fff" stroke="#1a1a1a" stroke-width="1.2"/>
<circle cx="325.84" cy="90.50" r="3.2" fill="#fff" stroke="#1a1a1a" stroke-width="1.2"/>
<line x1="223.08" y1="84.50" x2="223.08" y2="88.50" stroke="#444" stroke-width="1.0" stroke-linecap="butt"/>
<line x1="221.48" y1="84.50" x2="224.68" y2="84.50" stroke="#444" stroke-width="1.0" stroke-linecap="butt"/>
<line x1="221.48" y1="88.50" x2="224.68" y2="88.50" stroke="#444" stroke-width="1.0" stroke-linecap="butt"/>
<line x1="237.76" y1="77.50" x2="237.76" y2="86.50" stroke="#444" stroke-width="1.0" stroke-linecap="butt"/>
<line x1="236.16" y1="77.50" x2="239.36" y2="77.50" stroke="#444" stroke-width="1.0" stroke-linecap="butt"/>
<line x1="236.16" y1="86.50" x2="239.36" y2="86.50" stroke="#444" stroke-width="1.0" stroke-linecap="butt"/>
<line x1="281.80" y1="98.80" x2="281.80" y2="103.80" stroke="#444" stroke-width="1.0" stroke-linecap="butt"/>
<line x1="280.20" y1="98.80" x2="283.40" y2="98.80" stroke="#444" stroke-width="1.0" stroke-linecap="butt"/>
<line x1="280.20" y1="103.80" x2="283.40" y2="103.80" stroke="#444" stroke-width="1.0" stroke-linecap="butt"/>
<line x1="296.48" y1="99.10" x2="296.48" y2="103.10" stroke="#444" stroke-width="1.0" stroke-linecap="butt"/>
<line x1="294.88" y1="99.10" x2="298.08" y2="99.10" stroke="#444" stroke-width="1.0" stroke-linecap="butt"/>
<line x1="294.88" y1="103.10" x2="298.08" y2="103.10" stroke="#444" stroke-width="1.0" stroke-linecap="butt"/>
<line x1="311.16" y1="95.80" x2="311.16" y2="100.80" stroke="#444" stroke-width="1.0" stroke-linecap="butt"/>
<line x1="309.56" y1="95.80" x2="312.76" y2="95.80" stroke="#444" stroke-width="1.0" stroke-linecap="butt"/>
<line x1="309.56" y1="100.80" x2="312.76" y2="100.80" stroke="#444" stroke-width="1.0" stroke-linecap="butt"/>
<line x1="325.84" y1="95.20" x2="325.84" y2="99.20" stroke="#444" stroke-width="1.0" stroke-linecap="butt"/>
<line x1="324.24" y1="95.20" x2="327.44" y2="95.20" stroke="#444" stroke-width="1.0" stroke-linecap="butt"/>
<line x1="324.24" y1="99.20" x2="327.44" y2="99.20" stroke="#444" stroke-width="1.0" stroke-linecap="butt"/>
<polyline points="208.40,103.80 223.08,88.50 237.76,86.50 252.44,92.30 267.12,100.30 281.80,103.80 296.48,103.10 311.16,100.80 325.84,99.20" fill="none" stroke="#1a1a1a" stroke-width="1.9" stroke-linejoin="round"/>
<polygon points="208.40,100.54 205.14,106.41 211.66,106.41" fill="#808080" stroke="#2a2a2a" stroke-width="0.9" stroke-linejoin="round"/>
<polygon points="223.08,85.24 219.82,91.11 226.34,91.11" fill="#808080" stroke="#2a2a2a" stroke-width="0.9" stroke-linejoin="round"/>
<polygon points="237.76,83.24 234.50,89.11 241.02,89.11" fill="#808080" stroke="#2a2a2a" stroke-width="0.9" stroke-linejoin="round"/>
<polygon points="252.44,89.04 249.18,94.91 255.70,94.91" fill="#808080" stroke="#2a2a2a" stroke-width="0.9" stroke-linejoin="round"/>
<polygon points="267.12,97.04 263.86,102.91 270.38,102.91" fill="#808080" stroke="#2a2a2a" stroke-width="0.9" stroke-linejoin="round"/>
<polygon points="281.80,100.54 278.54,106.41 285.06,106.41" fill="#808080" stroke="#2a2a2a" stroke-width="0.9" stroke-linejoin="round"/>
<polygon points="296.48,99.84 293.22,105.71 299.74,105.71" fill="#808080" stroke="#2a2a2a" stroke-width="0.9" stroke-linejoin="round"/>
<polygon points="311.16,97.54 307.90,103.41 314.42,103.41" fill="#808080" stroke="#2a2a2a" stroke-width="0.9" stroke-linejoin="round"/>
<polygon points="325.84,95.94 322.58,101.81 329.10,101.81" fill="#808080" stroke="#2a2a2a" stroke-width="0.9" stroke-linejoin="round"/>
<line x1="208.40" y1="89.50" x2="208.40" y2="93.50" stroke="#444" stroke-width="1.0" stroke-linecap="butt"/>
<line x1="206.80" y1="89.50" x2="210.00" y2="89.50" stroke="#444" stroke-width="1.0" stroke-linecap="butt"/>
<line x1="206.80" y1="93.50" x2="210.00" y2="93.50" stroke="#444" stroke-width="1.0" stroke-linecap="butt"/>
<line x1="223.08" y1="86.80" x2="223.08" y2="90.80" stroke="#444" stroke-width="1.0" stroke-linecap="butt"/>
<line x1="221.48" y1="86.80" x2="224.68" y2="86.80" stroke="#444" stroke-width="1.0" stroke-linecap="butt"/>
<line x1="221.48" y1="90.80" x2="224.68" y2="90.80" stroke="#444" stroke-width="1.0" stroke-linecap="butt"/>
<line x1="237.76" y1="84.20" x2="237.76" y2="89.20" stroke="#444" stroke-width="1.0" stroke-linecap="butt"/>
<line x1="236.16" y1="84.20" x2="239.36" y2="84.20" stroke="#444" stroke-width="1.0" stroke-linecap="butt"/>
<line x1="236.16" y1="89.20" x2="239.36" y2="89.20" stroke="#444" stroke-width="1.0" stroke-linecap="butt"/>
<line x1="252.44" y1="75.80" x2="252.44" y2="80.80" stroke="#444" stroke-width="1.0" stroke-linecap="butt"/>
<line x1="250.84" y1="75.80" x2="254.04" y2="75.80" stroke="#444" stroke-width="1.0" stroke-linecap="butt"/>
<line x1="250.84" y1="80.80" x2="254.04" y2="80.80" stroke="#444" stroke-width="1.0" stroke-linecap="butt"/>
<line x1="281.80" y1="87.00" x2="281.80" y2="92.00" stroke="#444" stroke-width="1.0" stroke-linecap="butt"/>
<line x1="280.20" y1="87.00" x2="283.40" y2="87.00" stroke="#444" stroke-width="1.0" stroke-linecap="butt"/>
<line x1="280.20" y1="92.00" x2="283.40" y2="92.00" stroke="#444" stroke-width="1.0" stroke-linecap="butt"/>
<line x1="296.48" y1="81.90" x2="296.48" y2="86.90" stroke="#444" stroke-width="1.0" stroke-linecap="butt"/>
<line x1="294.88" y1="81.90" x2="298.08" y2="81.90" stroke="#444" stroke-width="1.0" stroke-linecap="butt"/>
<line x1="294.88" y1="86.90" x2="298.08" y2="86.90" stroke="#444" stroke-width="1.0" stroke-linecap="butt"/>
<line x1="311.16" y1="77.80" x2="311.16" y2="82.80" stroke="#444" stroke-width="1.0" stroke-linecap="butt"/>
<line x1="309.56" y1="77.80" x2="312.76" y2="77.80" stroke="#444" stroke-width="1.0" stroke-linecap="butt"/>
<line x1="309.56" y1="82.80" x2="312.76" y2="82.80" stroke="#444" stroke-width="1.0" stroke-linecap="butt"/>
<line x1="325.84" y1="85.00" x2="325.84" y2="90.00" stroke="#444" stroke-width="1.0" stroke-linecap="butt"/>
<line x1="324.24" y1="85.00" x2="327.44" y2="85.00" stroke="#444" stroke-width="1.0" stroke-linecap="butt"/>
<line x1="324.24" y1="90.00" x2="327.44" y2="90.00" stroke="#444" stroke-width="1.0" stroke-linecap="butt"/>
<polyline points="208.40,93.50 223.08,90.80 237.76,89.20 252.44,80.80 267.12,100.00 281.80,92.00 296.48,86.90 311.16,82.80 325.84,90.00" fill="none" stroke="#1a1a1a" stroke-width="1.9" stroke-linejoin="round"/>
<rect x="205.36" y="90.46" width="6.08" height="6.08" fill="#1c1c1c"/>
<rect x="220.04" y="87.76" width="6.08" height="6.08" fill="#1c1c1c"/>
<rect x="234.72" y="86.16" width="6.08" height="6.08" fill="#1c1c1c"/>
<rect x="249.40" y="77.76" width="6.08" height="6.08" fill="#1c1c1c"/>
<rect x="264.08" y="96.96" width="6.08" height="6.08" fill="#1c1c1c"/>
<rect x="278.76" y="88.96" width="6.08" height="6.08" fill="#1c1c1c"/>
<rect x="293.44" y="83.86" width="6.08" height="6.08" fill="#1c1c1c"/>
<rect x="308.12" y="79.76" width="6.08" height="6.08" fill="#1c1c1c"/>
<rect x="322.80" y="86.96" width="6.08" height="6.08" fill="#1c1c1c"/>
<circle cx="267.12" cy="89.60" r="3.2" fill="#fff" stroke="#1a1a1a" stroke-width="1.2"/>
<circle cx="281.80" cy="85.40" r="3.2" fill="#fff" stroke="#1a1a1a" stroke-width="1.2"/>
<circle cx="296.48" cy="75.40" r="3.2" fill="#fff" stroke="#1a1a1a" stroke-width="1.2"/>
<circle cx="311.16" cy="78.50" r="3.2" fill="#fff" stroke="#1a1a1a" stroke-width="1.2"/>
<text x="338.70" y="11.40" font-size="15.8" text-anchor="start" font-weight="bold" textLength="11.2" lengthAdjust="spacingAndGlyphs" fill="#000" stroke="#000" stroke-width="0.5">C</text>
<line x1="376.90" y1="8.40" x2="376.90" y2="154.60" stroke="#1a1a1a" stroke-width="1.4" stroke-linecap="butt"/>
<line x1="376.20" y1="153.90" x2="519.00" y2="153.90" stroke="#1a1a1a" stroke-width="1.4" stroke-linecap="butt"/>
<line x1="373.90" y1="9.60" x2="376.90" y2="9.60" stroke="#1a1a1a" stroke-width="1.1" stroke-linecap="butt"/>
<text x="371.70" y="12.77" font-size="8.8" text-anchor="end" textLength="13.9" lengthAdjust="spacingAndGlyphs" fill="#1a1a1a" stroke="#1a1a1a" stroke-width="0.55">750</text>
<line x1="373.90" y1="57.90" x2="376.90" y2="57.90" stroke="#1a1a1a" stroke-width="1.1" stroke-linecap="butt"/>
<text x="371.70" y="61.07" font-size="8.8" text-anchor="end" textLength="13.9" lengthAdjust="spacingAndGlyphs" fill="#1a1a1a" stroke="#1a1a1a" stroke-width="0.55">500</text>
<line x1="373.90" y1="106.10" x2="376.90" y2="106.10" stroke="#1a1a1a" stroke-width="1.1" stroke-linecap="butt"/>
<text x="371.70" y="109.27" font-size="8.8" text-anchor="end" textLength="13.9" lengthAdjust="spacingAndGlyphs" fill="#1a1a1a" stroke="#1a1a1a" stroke-width="0.55">250</text>
<line x1="373.90" y1="154.20" x2="376.90" y2="154.20" stroke="#1a1a1a" stroke-width="1.1" stroke-linecap="butt"/>
<text x="371.70" y="157.37" font-size="8.8" text-anchor="end" textLength="4.6" lengthAdjust="spacingAndGlyphs" fill="#1a1a1a" stroke="#1a1a1a" stroke-width="0.55">0</text>
<line x1="376.80" y1="153.90" x2="376.80" y2="157.10" stroke="#1a1a1a" stroke-width="1.1" stroke-linecap="butt"/>
<text x="376.80" y="170.37" font-size="8.8" text-anchor="middle" textLength="4.6" lengthAdjust="spacingAndGlyphs" fill="#1a1a1a" stroke="#1a1a1a" stroke-width="0.55">0</text>
<line x1="410.32" y1="153.90" x2="410.32" y2="157.10" stroke="#1a1a1a" stroke-width="1.1" stroke-linecap="butt"/>
<text x="410.32" y="170.37" font-size="8.8" text-anchor="middle" textLength="9.2" lengthAdjust="spacingAndGlyphs" fill="#1a1a1a" stroke="#1a1a1a" stroke-width="0.55">30</text>
<line x1="443.85" y1="153.90" x2="443.85" y2="157.10" stroke="#1a1a1a" stroke-width="1.1" stroke-linecap="butt"/>
<text x="443.85" y="170.37" font-size="8.8" text-anchor="middle" textLength="9.2" lengthAdjust="spacingAndGlyphs" fill="#1a1a1a" stroke="#1a1a1a" stroke-width="0.55">60</text>
<line x1="477.38" y1="153.90" x2="477.38" y2="157.10" stroke="#1a1a1a" stroke-width="1.1" stroke-linecap="butt"/>
<text x="477.38" y="170.37" font-size="8.8" text-anchor="middle" textLength="9.2" lengthAdjust="spacingAndGlyphs" fill="#1a1a1a" stroke="#1a1a1a" stroke-width="0.55">90</text>
<line x1="510.90" y1="153.90" x2="510.90" y2="157.10" stroke="#1a1a1a" stroke-width="1.1" stroke-linecap="butt"/>
<text x="510.90" y="170.37" font-size="8.8" text-anchor="middle" textLength="13.9" lengthAdjust="spacingAndGlyphs" fill="#1a1a1a" stroke="#1a1a1a" stroke-width="0.55">120</text>
<text x="355.00" y="82.10" font-size="10.5" text-anchor="middle" transform="rotate(-90 355.00 82.10)" textLength="55.0" lengthAdjust="spacingAndGlyphs" fill="#1a1a1a" stroke="#1a1a1a" stroke-width="0.45">GIP (pg/ml)</text>
<text x="438.50" y="181.00" font-size="10.5" text-anchor="middle" textLength="51.0" lengthAdjust="spacingAndGlyphs" fill="#1a1a1a" stroke="#1a1a1a" stroke-width="0.45">Time (min)</text>
<text x="369.90" y="145.28" font-size="8" font-weight="bold" text-anchor="middle" fill="#111" stroke="#111" stroke-width="0.7">*</text>
<text x="366.85 371.75" y="151.68" font-size="8" font-weight="bold" text-anchor="middle" fill="#111" stroke="#111" stroke-width="0.7">**</text>
<text x="372.25 377.15" y="164.08" font-size="8" font-weight="bold" text-anchor="middle" fill="#111" stroke="#111" stroke-width="0.7">**</text>
<text x="389.55 394.45" y="164.08" font-size="8" font-weight="bold" text-anchor="middle" fill="#111" stroke="#111" stroke-width="0.7">**</text>
<text x="405.60 410.50 415.40" y="164.08" font-size="8" font-weight="bold" text-anchor="middle" fill="#111" stroke="#111" stroke-width="0.7">***</text>
<text x="439.90 444.80 449.70" y="164.08" font-size="8" font-weight="bold" text-anchor="middle" fill="#111" stroke="#111" stroke-width="0.7">***</text>
<text x="506.60 511.50 516.40" y="164.08" font-size="8" font-weight="bold" text-anchor="middle" fill="#111" stroke="#111" stroke-width="0.7">***</text>
<text x="397.50" y="86.88" font-size="8" font-weight="bold" text-anchor="middle" fill="#111" stroke="#111" stroke-width="0.7">*</text>
<text x="392.15 397.05" y="123.58" font-size="8" font-weight="bold" text-anchor="middle" fill="#111" stroke="#111" stroke-width="0.7">**</text>
<text x="415.00" y="115.38" font-size="8" font-weight="bold" text-anchor="middle" fill="#111" stroke="#111" stroke-width="0.7">*</text>
<text x="447.40" y="130.08" font-size="8" font-weight="bold" text-anchor="middle" fill="#111" stroke="#111" stroke-width="0.7">*</text>
<text x="448.20" y="146.08" font-size="8" font-weight="bold" text-anchor="middle" fill="#111" stroke="#111" stroke-width="0.7">*</text>
<text x="508.55 513.45" y="145.08" font-size="8" font-weight="bold" text-anchor="middle" fill="#111" stroke="#111" stroke-width="0.7">**</text>
<polyline points="376.80,154.00 393.56,154.00 410.32,154.00 443.85,154.00 510.90,154.00" fill="none" stroke="#1a1a1a" stroke-width="1.6" stroke-linejoin="round"/>
<polygon points="376.80,151.55 374.35,155.96 379.25,155.96" fill="#808080" stroke="#2a2a2a" stroke-width="0.9" stroke-linejoin="round"/>
<polygon points="393.56,151.55 391.11,155.96 396.01,155.96" fill="#808080" stroke="#2a2a2a" stroke-width="0.9" stroke-linejoin="round"/>
<polygon points="410.32,151.55 407.88,155.96 412.77,155.96" fill="#808080" stroke="#2a2a2a" stroke-width="0.9" stroke-linejoin="round"/>
<polygon points="443.85,151.55 441.40,155.96 446.30,155.96" fill="#808080" stroke="#2a2a2a" stroke-width="0.9" stroke-linejoin="round"/>
<polygon points="510.90,151.55 508.45,155.96 513.35,155.96" fill="#808080" stroke="#2a2a2a" stroke-width="0.9" stroke-linejoin="round"/>
<line x1="393.56" y1="78.50" x2="393.56" y2="100.50" stroke="#333" stroke-width="0.8" stroke-linecap="butt"/>
<line x1="392.06" y1="78.50" x2="395.06" y2="78.50" stroke="#333" stroke-width="0.8" stroke-linecap="butt"/>
<line x1="392.06" y1="100.50" x2="395.06" y2="100.50" stroke="#333" stroke-width="0.8" stroke-linecap="butt"/>
<line x1="410.32" y1="111.70" x2="410.32" y2="121.70" stroke="#333" stroke-width="0.8" stroke-linecap="butt"/>
<line x1="408.82" y1="111.70" x2="411.82" y2="111.70" stroke="#333" stroke-width="0.8" stroke-linecap="butt"/>
<line x1="408.82" y1="121.70" x2="411.82" y2="121.70" stroke="#333" stroke-width="0.8" stroke-linecap="butt"/>
<line x1="443.85" y1="131.80" x2="443.85" y2="139.80" stroke="#333" stroke-width="0.8" stroke-linecap="butt"/>
<line x1="442.35" y1="131.80" x2="445.35" y2="131.80" stroke="#333" stroke-width="0.8" stroke-linecap="butt"/>
<line x1="442.35" y1="139.80" x2="445.35" y2="139.80" stroke="#333" stroke-width="0.8" stroke-linecap="butt"/>
<polyline points="376.80,146.10 393.56,89.50 410.32,116.70 443.85,135.80 510.90,147.60" fill="none" stroke="#1a1a1a" stroke-width="1.7" stroke-linejoin="round"/>
<rect x="373.95" y="143.25" width="5.70" height="5.70" fill="#1c1c1c"/>
<rect x="390.71" y="86.65" width="5.70" height="5.70" fill="#1c1c1c"/>
<rect x="407.47" y="113.85" width="5.70" height="5.70" fill="#1c1c1c"/>
<rect x="441.00" y="132.95" width="5.70" height="5.70" fill="#1c1c1c"/>
<rect x="508.05" y="144.75" width="5.70" height="5.70" fill="#1c1c1c"/>
<line x1="393.56" y1="98.50" x2="393.56" y2="116.50" stroke="#333" stroke-width="0.8" stroke-linecap="butt"/>
<line x1="392.06" y1="98.50" x2="395.06" y2="98.50" stroke="#333" stroke-width="0.8" stroke-linecap="butt"/>
<line x1="392.06" y1="116.50" x2="395.06" y2="116.50" stroke="#333" stroke-width="0.8" stroke-linecap="butt"/>
<line x1="410.32" y1="113.20" x2="410.32" y2="127.20" stroke="#333" stroke-width="0.8" stroke-linecap="butt"/>
<line x1="408.82" y1="113.20" x2="411.82" y2="113.20" stroke="#333" stroke-width="0.8" stroke-linecap="butt"/>
<line x1="408.82" y1="127.20" x2="411.82" y2="127.20" stroke="#333" stroke-width="0.8" stroke-linecap="butt"/>
<line x1="443.85" y1="126.90" x2="443.85" y2="134.90" stroke="#333" stroke-width="0.8" stroke-linecap="butt"/>
<line x1="442.35" y1="126.90" x2="445.35" y2="126.90" stroke="#333" stroke-width="0.8" stroke-linecap="butt"/>
<line x1="442.35" y1="134.90" x2="445.35" y2="134.90" stroke="#333" stroke-width="0.8" stroke-linecap="butt"/>
<polyline points="376.80,140.90 393.56,107.50 410.32,120.20 443.85,130.90 510.90,136.50" fill="none" stroke="#1a1a1a" stroke-width="1.5" stroke-dasharray="4.5 2.5" stroke-linejoin="round"/>
<circle cx="376.80" cy="140.90" r="3.2" fill="#fff" stroke="#1a1a1a" stroke-width="1.2"/>
<circle cx="393.56" cy="107.50" r="3.2" fill="#fff" stroke="#1a1a1a" stroke-width="1.2"/>
<circle cx="410.32" cy="120.20" r="3.2" fill="#fff" stroke="#1a1a1a" stroke-width="1.2"/>
<circle cx="443.85" cy="130.90" r="3.2" fill="#fff" stroke="#1a1a1a" stroke-width="1.2"/>
<circle cx="510.90" cy="136.50" r="3.2" fill="#fff" stroke="#1a1a1a" stroke-width="1.2"/>
<line x1="393.56" y1="28.00" x2="393.56" y2="64.00" stroke="#333" stroke-width="0.8" stroke-linecap="butt"/>
<line x1="392.06" y1="28.00" x2="395.06" y2="28.00" stroke="#333" stroke-width="0.8" stroke-linecap="butt"/>
<line x1="392.06" y1="64.00" x2="395.06" y2="64.00" stroke="#333" stroke-width="0.8" stroke-linecap="butt"/>
<line x1="410.32" y1="59.20" x2="410.32" y2="87.00" stroke="#333" stroke-width="0.8" stroke-linecap="butt"/>
<line x1="408.82" y1="59.20" x2="411.82" y2="59.20" stroke="#333" stroke-width="0.8" stroke-linecap="butt"/>
<line x1="408.82" y1="87.00" x2="411.82" y2="87.00" stroke="#333" stroke-width="0.8" stroke-linecap="butt"/>
<line x1="443.85" y1="100.50" x2="443.85" y2="117.50" stroke="#333" stroke-width="0.8" stroke-linecap="butt"/>
<line x1="442.35" y1="100.50" x2="445.35" y2="100.50" stroke="#333" stroke-width="0.8" stroke-linecap="butt"/>
<line x1="442.35" y1="117.50" x2="445.35" y2="117.50" stroke="#333" stroke-width="0.8" stroke-linecap="butt"/>
<polyline points="376.80,133.50 393.56,46.40 410.32,73.00 443.85,109.00 510.90,129.10" fill="none" stroke="#1a1a1a" stroke-width="1.7" stroke-linejoin="round"/>
<circle cx="376.80" cy="133.50" r="3.2" fill="#fff" stroke="#1a1a1a" stroke-width="1.2"/>
<circle cx="393.56" cy="46.40" r="3.2" fill="#fff" stroke="#1a1a1a" stroke-width="1.2"/>
<circle cx="410.32" cy="73.00" r="3.2" fill="#fff" stroke="#1a1a1a" stroke-width="1.2"/>
<circle cx="443.85" cy="109.00" r="3.2" fill="#fff" stroke="#1a1a1a" stroke-width="1.2"/>
<circle cx="510.90" cy="129.10" r="3.2" fill="#fff" stroke="#1a1a1a" stroke-width="1.2"/>
<text x="0.00" y="201.80" font-size="15.8" text-anchor="start" font-weight="bold" textLength="10.6" lengthAdjust="spacingAndGlyphs" fill="#000" stroke="#000" stroke-width="0.5">D</text>
<line x1="43.70" y1="212.70" x2="43.70" y2="345.85" stroke="#1a1a1a" stroke-width="1.5" stroke-linecap="butt"/>
<line x1="42.95" y1="345.10" x2="140.50" y2="345.10" stroke="#1a1a1a" stroke-width="1.5" stroke-linecap="butt"/>
<line x1="39.70" y1="213.90" x2="43.70" y2="213.90" stroke="#1a1a1a" stroke-width="1.1" stroke-linecap="butt"/>
<text x="39.10" y="217.07" font-size="8.8" text-anchor="end" textLength="9.2" lengthAdjust="spacingAndGlyphs" fill="#1a1a1a" stroke="#1a1a1a" stroke-width="0.55">50</text>
<line x1="39.70" y1="240.10" x2="43.70" y2="240.10" stroke="#1a1a1a" stroke-width="1.1" stroke-linecap="butt"/>
<text x="39.10" y="243.27" font-size="8.8" text-anchor="end" textLength="9.2" lengthAdjust="spacingAndGlyphs" fill="#1a1a1a" stroke="#1a1a1a" stroke-width="0.55">40</text>
<line x1="39.70" y1="266.40" x2="43.70" y2="266.40" stroke="#1a1a1a" stroke-width="1.1" stroke-linecap="butt"/>
<text x="39.10" y="269.57" font-size="8.8" text-anchor="end" textLength="9.2" lengthAdjust="spacingAndGlyphs" fill="#1a1a1a" stroke="#1a1a1a" stroke-width="0.55">30</text>
<line x1="39.70" y1="292.60" x2="43.70" y2="292.60" stroke="#1a1a1a" stroke-width="1.1" stroke-linecap="butt"/>
<text x="39.10" y="295.77" font-size="8.8" text-anchor="end" textLength="9.2" lengthAdjust="spacingAndGlyphs" fill="#1a1a1a" stroke="#1a1a1a" stroke-width="0.55">20</text>
<line x1="39.70" y1="318.80" x2="43.70" y2="318.80" stroke="#1a1a1a" stroke-width="1.1" stroke-linecap="butt"/>
<text x="39.10" y="321.97" font-size="8.8" text-anchor="end" textLength="9.2" lengthAdjust="spacingAndGlyphs" fill="#1a1a1a" stroke="#1a1a1a" stroke-width="0.55">10</text>
<line x1="39.70" y1="345.10" x2="43.70" y2="345.10" stroke="#1a1a1a" stroke-width="1.1" stroke-linecap="butt"/>
<text x="39.10" y="348.27" font-size="8.8" text-anchor="end" textLength="4.6" lengthAdjust="spacingAndGlyphs" fill="#1a1a1a" stroke="#1a1a1a" stroke-width="0.55">0</text>
<text x="21.80" y="359.40" font-size="10" text-anchor="start" transform="rotate(-90 21.80 359.40)" textLength="88.4" lengthAdjust="spacingAndGlyphs" fill="#1a1a1a" stroke="#1a1a1a" stroke-width="0.3">GIP secretion (pg/ml</text>
<text x="21.80" y="268.30" font-size="10" text-anchor="start" transform="rotate(-90 21.80 268.30)" fill="#1a1a1a" stroke="#1a1a1a" stroke-width="0.3">·</text>
<text x="21.80" y="263.50" font-size="10" text-anchor="start" transform="rotate(-90 21.80 263.50)" textLength="15.5" lengthAdjust="spacingAndGlyphs" fill="#1a1a1a" stroke="#1a1a1a" stroke-width="0.3">min</text>
<text x="22.60" y="246.00" font-size="13.5" text-anchor="start" transform="rotate(-90 22.60 246.00)" textLength="8.6" lengthAdjust="spacingAndGlyphs" fill="#1a1a1a" stroke="#1a1a1a" stroke-width="0.2">×</text>
<text x="21.80" y="235.50" font-size="10" text-anchor="start" transform="rotate(-90 21.80 235.50)" textLength="11.6" lengthAdjust="spacingAndGlyphs" fill="#1a1a1a" stroke="#1a1a1a" stroke-width="0.3">10</text>
<text x="16.60" y="223.60" font-size="6.5" text-anchor="start" transform="rotate(-90 16.60 223.60)" textLength="3.6" lengthAdjust="spacingAndGlyphs" fill="#1a1a1a" stroke="#1a1a1a" stroke-width="0.3">3</text>
<text x="21.80" y="220.60" font-size="10" text-anchor="start" transform="rotate(-90 21.80 220.60)" textLength="3.6" lengthAdjust="spacingAndGlyphs" fill="#1a1a1a" stroke="#1a1a1a" stroke-width="0.3">)</text>
<line x1="56.80" y1="289.30" x2="56.80" y2="321.60" stroke="#222" stroke-width="0.9" stroke-linecap="butt"/>
<line x1="55.50" y1="289.30" x2="58.10" y2="289.30" stroke="#222" stroke-width="0.9" stroke-linecap="butt"/>
<line x1="55.50" y1="321.60" x2="58.10" y2="321.60" stroke="#222" stroke-width="0.9" stroke-linecap="butt"/>
<path d="M49.8,345.1 V305.2 H64.6" fill="none" stroke="#1a1a1a" stroke-width="1.2" stroke-dasharray="2 1.2"/>
<rect x="65.20" y="258.20" width="14.20" height="86.90" fill="#fff" stroke="#1a1a1a" stroke-width="1.5"/>
<line x1="72.50" y1="244.70" x2="72.50" y2="271.80" stroke="#222" stroke-width="0.9" stroke-linecap="butt"/>
<line x1="71.20" y1="244.70" x2="73.80" y2="244.70" stroke="#222" stroke-width="0.9" stroke-linecap="butt"/>
<line x1="71.20" y1="271.80" x2="73.80" y2="271.80" stroke="#222" stroke-width="0.9" stroke-linecap="butt"/>
<line x1="97.00" y1="302.30" x2="97.00" y2="307.00" stroke="#222" stroke-width="0.9" stroke-linecap="butt"/>
<line x1="95.70" y1="302.30" x2="98.30" y2="302.30" stroke="#222" stroke-width="0.9" stroke-linecap="butt"/>
<line x1="95.70" y1="307.00" x2="98.30" y2="307.00" stroke="#222" stroke-width="0.9" stroke-linecap="butt"/>
<rect x="89.60" y="305.20" width="14.60" height="39.90" fill="#1c1c1c" stroke="#1a1a1a" stroke-width="1.2"/>
<path d="M55.40,239.00 V232.40 Q55.40,231.60 56.20,231.60 H70.90 Q71.70,231.60 71.70,232.40 V239.00" fill="none" stroke="#2a2a2a" stroke-width="1.2"/>
<path d="M74.50,239.00 V232.40 Q74.50,231.60 75.30,231.60 H124.20 Q125.00,231.60 125.00,232.40 V239.00" fill="none" stroke="#2a2a2a" stroke-width="1.2"/>
<line x1="99.20" y1="231.60" x2="99.20" y2="239.00" stroke="#2a2a2a" stroke-width="1.2" stroke-linecap="butt"/>
<line x1="100.70" y1="231.60" x2="100.70" y2="239.00" stroke="#2a2a2a" stroke-width="1.2" stroke-linecap="butt"/>
<path d="M74.50,226.30 V218.00 Q74.50,217.20 75.30,217.20 H124.90 Q125.70,217.20 125.70,218.00 V226.30" fill="none" stroke="#2a2a2a" stroke-width="1.2"/>
<text x="54.40 60.80 67.20" y="231.88" font-size="12.5" font-weight="bold" text-anchor="middle" fill="#111" stroke="#111" stroke-width="0.3">***</text>
<text x="85.10" y="231.88" font-size="12.5" font-weight="bold" text-anchor="middle" fill="#111" stroke="#111" stroke-width="0.3">*</text>
<text x="105.90 112.30 118.70" y="231.88" font-size="12.5" font-weight="bold" text-anchor="middle" fill="#111" stroke="#111" stroke-width="0.3">***</text>
<text x="93.10 99.50 105.90" y="220.28" font-size="12.5" font-weight="bold" text-anchor="middle" fill="#111" stroke="#111" stroke-width="0.3">***</text>
<rect x="64.90" y="348.60" width="76.40" height="11.40" fill="#a3a3a3"/>
<rect x="39.80" y="348.60" width="101.50" height="11.40" fill="none" stroke="#1a1a1a" stroke-width="1.5"/>
<line x1="64.90" y1="348.60" x2="64.90" y2="360.00" stroke="#1a1a1a" stroke-width="1.2" stroke-linecap="butt"/>
<text x="53.20" y="358.20" font-size="10" text-anchor="middle" textLength="20.0" lengthAdjust="spacingAndGlyphs" fill="#1a1a1a" stroke="#1a1a1a" stroke-width="0.45">CFD</text>
<text x="106.70" y="358.20" font-size="10" text-anchor="middle" textLength="20.5" lengthAdjust="spacingAndGlyphs" fill="#1a1a1a" stroke="#1a1a1a" stroke-width="0.45">HFD</text>
<text x="63.10" y="374.80" font-size="10.5" text-anchor="middle" textLength="15.2" lengthAdjust="spacingAndGlyphs" fill="#1a1a1a" stroke="#1a1a1a" stroke-width="0.45">WT</text>
<text x="90.50" y="374.80" font-size="10.5" text-anchor="middle" textLength="16.0" lengthAdjust="spacingAndGlyphs" fill="#1a1a1a" stroke="#1a1a1a" stroke-width="0.45">GIP</text>
<text x="121.70" y="374.80" font-size="10.5" text-anchor="middle" textLength="16.0" lengthAdjust="spacingAndGlyphs" fill="#1a1a1a" stroke="#1a1a1a" stroke-width="0.45">GIP</text>
<text x="104.40" y="365.20" font-size="6.4" text-anchor="middle" font-weight="bold" textLength="16.8" lengthAdjust="spacingAndGlyphs" fill="#1a1a1a" stroke="#1a1a1a" stroke-width="0.15">gfp /+</text>
<text x="136.70" y="366.00" font-size="6.4" text-anchor="middle" font-weight="bold" textLength="20.8" lengthAdjust="spacingAndGlyphs" fill="#1a1a1a" stroke="#1a1a1a" stroke-width="0.15">gfp/gfp</text>
<text x="145.30" y="201.80" font-size="15.8" text-anchor="start" font-weight="bold" textLength="9.8" lengthAdjust="spacingAndGlyphs" fill="#000" stroke="#000" stroke-width="0.5">E</text>
<line x1="184.70" y1="198.10" x2="184.70" y2="354.75" stroke="#1a1a1a" stroke-width="1.5" stroke-linecap="butt"/>
<line x1="183.95" y1="354.00" x2="316.30" y2="354.00" stroke="#1a1a1a" stroke-width="1.5" stroke-linecap="butt"/>
<line x1="181.70" y1="199.30" x2="184.70" y2="199.30" stroke="#1a1a1a" stroke-width="1.1" stroke-linecap="butt"/>
<text x="178.80" y="202.47" font-size="8.8" text-anchor="end" textLength="13.9" lengthAdjust="spacingAndGlyphs" fill="#1a1a1a" stroke="#1a1a1a" stroke-width="0.55">500</text>
<line x1="181.70" y1="230.20" x2="184.70" y2="230.20" stroke="#1a1a1a" stroke-width="1.1" stroke-linecap="butt"/>
<text x="178.80" y="233.37" font-size="8.8" text-anchor="end" textLength="13.9" lengthAdjust="spacingAndGlyphs" fill="#1a1a1a" stroke="#1a1a1a" stroke-width="0.55">400</text>
<line x1="181.70" y1="261.20" x2="184.70" y2="261.20" stroke="#1a1a1a" stroke-width="1.1" stroke-linecap="butt"/>
<text x="178.80" y="264.37" font-size="8.8" text-anchor="end" textLength="13.9" lengthAdjust="spacingAndGlyphs" fill="#1a1a1a" stroke="#1a1a1a" stroke-width="0.55">300</text>
<line x1="181.70" y1="292.10" x2="184.70" y2="292.10" stroke="#1a1a1a" stroke-width="1.1" stroke-linecap="butt"/>
<text x="178.80" y="295.27" font-size="8.8" text-anchor="end" textLength="13.9" lengthAdjust="spacingAndGlyphs" fill="#1a1a1a" stroke="#1a1a1a" stroke-width="0.55">200</text>
<line x1="181.70" y1="323.10" x2="184.70" y2="323.10" stroke="#1a1a1a" stroke-width="1.1" stroke-linecap="butt"/>
<text x="178.80" y="326.27" font-size="8.8" text-anchor="end" textLength="13.9" lengthAdjust="spacingAndGlyphs" fill="#1a1a1a" stroke="#1a1a1a" stroke-width="0.55">100</text>
<line x1="181.70" y1="354.00" x2="184.70" y2="354.00" stroke="#1a1a1a" stroke-width="1.1" stroke-linecap="butt"/>
<text x="178.80" y="357.17" font-size="8.8" text-anchor="end" textLength="4.6" lengthAdjust="spacingAndGlyphs" fill="#1a1a1a" stroke="#1a1a1a" stroke-width="0.55">0</text>
<line x1="184.70" y1="354.00" x2="184.70" y2="357.20" stroke="#1a1a1a" stroke-width="1.1" stroke-linecap="butt"/>
<text x="184.70" y="369.47" font-size="8.8" text-anchor="middle" textLength="4.6" lengthAdjust="spacingAndGlyphs" fill="#1a1a1a" stroke="#1a1a1a" stroke-width="0.55">0</text>
<line x1="217.43" y1="354.00" x2="217.43" y2="357.20" stroke="#1a1a1a" stroke-width="1.1" stroke-linecap="butt"/>
<text x="217.43" y="369.47" font-size="8.8" text-anchor="middle" textLength="9.2" lengthAdjust="spacingAndGlyphs" fill="#1a1a1a" stroke="#1a1a1a" stroke-width="0.55">30</text>
<line x1="250.15" y1="354.00" x2="250.15" y2="357.20" stroke="#1a1a1a" stroke-width="1.1" stroke-linecap="butt"/>
<text x="250.15" y="369.47" font-size="8.8" text-anchor="middle" textLength="9.2" lengthAdjust="spacingAndGlyphs" fill="#1a1a1a" stroke="#1a1a1a" stroke-width="0.55">60</text>
<line x1="282.88" y1="354.00" x2="282.88" y2="357.20" stroke="#1a1a1a" stroke-width="1.1" stroke-linecap="butt"/>
<text x="282.88" y="369.47" font-size="8.8" text-anchor="middle" textLength="9.2" lengthAdjust="spacingAndGlyphs" fill="#1a1a1a" stroke="#1a1a1a" stroke-width="0.55">90</text>
<line x1="315.60" y1="354.00" x2="315.60" y2="357.20" stroke="#1a1a1a" stroke-width="1.1" stroke-linecap="butt"/>
<text x="315.60" y="369.47" font-size="8.8" text-anchor="middle" textLength="13.9" lengthAdjust="spacingAndGlyphs" fill="#1a1a1a" stroke="#1a1a1a" stroke-width="0.55">120</text>
<text x="157.20" y="273.10" font-size="10.5" text-anchor="middle" transform="rotate(-90 157.20 273.10)" textLength="77.0" lengthAdjust="spacingAndGlyphs" fill="#1a1a1a" stroke="#1a1a1a" stroke-width="0.45">Glucose (mg/dl)</text>
<text x="250.70" y="382.30" font-size="10.5" text-anchor="middle" textLength="51.0" lengthAdjust="spacingAndGlyphs" fill="#1a1a1a" stroke="#1a1a1a" stroke-width="0.45">Time (min)</text>
<text x="251.50" y="260.88" font-size="8" font-weight="bold" text-anchor="middle" fill="#111" stroke="#111" stroke-width="0.7">*</text>
<text x="189.80" y="343.08" font-size="8" font-weight="bold" text-anchor="middle" fill="#111" stroke="#111" stroke-width="0.7">*</text>
<line x1="217.43" y1="257.70" x2="217.43" y2="262.70" stroke="#444" stroke-width="0.9" stroke-linecap="butt"/>
<line x1="216.12" y1="257.70" x2="218.73" y2="257.70" stroke="#444" stroke-width="0.9" stroke-linecap="butt"/>
<line x1="216.12" y1="262.70" x2="218.73" y2="262.70" stroke="#444" stroke-width="0.9" stroke-linecap="butt"/>
<line x1="315.60" y1="311.60" x2="315.60" y2="317.60" stroke="#444" stroke-width="0.9" stroke-linecap="butt"/>
<line x1="314.30" y1="311.60" x2="316.90" y2="311.60" stroke="#444" stroke-width="0.9" stroke-linecap="butt"/>
<line x1="314.30" y1="317.60" x2="316.90" y2="317.60" stroke="#444" stroke-width="0.9" stroke-linecap="butt"/>
<polyline points="184.70,335.50 201.06,250.70 217.43,257.70 250.15,284.60 315.60,311.60" fill="none" stroke="#1a1a1a" stroke-width="1.4" stroke-dasharray="3.5 2.2" stroke-linejoin="round"/>
<circle cx="184.70" cy="335.50" r="2.9" fill="#fff" stroke="#1a1a1a" stroke-width="1.2"/>
<circle cx="201.06" cy="250.70" r="2.9" fill="#fff" stroke="#1a1a1a" stroke-width="1.2"/>
<circle cx="217.43" cy="257.70" r="2.9" fill="#fff" stroke="#1a1a1a" stroke-width="1.2"/>
<circle cx="250.15" cy="284.60" r="2.9" fill="#fff" stroke="#1a1a1a" stroke-width="1.2"/>
<circle cx="315.60" cy="311.60" r="2.9" fill="#fff" stroke="#1a1a1a" stroke-width="1.2"/>
<line x1="201.06" y1="236.20" x2="201.06" y2="243.20" stroke="#444" stroke-width="0.9" stroke-linecap="butt"/>
<line x1="199.76" y1="236.20" x2="202.36" y2="236.20" stroke="#444" stroke-width="0.9" stroke-linecap="butt"/>
<line x1="199.76" y1="243.20" x2="202.36" y2="243.20" stroke="#444" stroke-width="0.9" stroke-linecap="butt"/>
<polyline points="184.70,331.80 201.06,243.20 217.43,245.80 250.15,268.80 315.60,306.80" fill="none" stroke="#1a1a1a" stroke-width="2.1" stroke-linejoin="round"/>
<rect x="181.85" y="328.95" width="5.70" height="5.70" fill="#1c1c1c"/>
<rect x="198.21" y="240.35" width="5.70" height="5.70" fill="#1c1c1c"/>
<rect x="214.58" y="242.95" width="5.70" height="5.70" fill="#1c1c1c"/>
<rect x="247.30" y="265.95" width="5.70" height="5.70" fill="#1c1c1c"/>
<rect x="312.75" y="303.95" width="5.70" height="5.70" fill="#1c1c1c"/>
<line x1="217.43" y1="233.40" x2="217.43" y2="240.40" stroke="#444" stroke-width="0.9" stroke-linecap="butt"/>
<line x1="216.12" y1="233.40" x2="218.73" y2="233.40" stroke="#444" stroke-width="0.9" stroke-linecap="butt"/>
<line x1="216.12" y1="240.40" x2="218.73" y2="240.40" stroke="#444" stroke-width="0.9" stroke-linecap="butt"/>
<line x1="250.15" y1="258.20" x2="250.15" y2="264.20" stroke="#444" stroke-width="0.9" stroke-linecap="butt"/>
<line x1="248.85" y1="258.20" x2="251.45" y2="258.20" stroke="#444" stroke-width="0.9" stroke-linecap="butt"/>
<line x1="248.85" y1="264.20" x2="251.45" y2="264.20" stroke="#444" stroke-width="0.9" stroke-linecap="butt"/>
<polyline points="184.70,329.70 201.06,247.50 217.43,240.40 250.15,264.20 315.60,306.50" fill="none" stroke="#1a1a1a" stroke-width="2.1" stroke-linejoin="round"/>
<polygon points="184.70,326.64 181.64,332.15 187.76,332.15" fill="#808080" stroke="#2a2a2a" stroke-width="0.9" stroke-linejoin="round"/>
<polygon points="201.06,244.44 198.00,249.95 204.12,249.95" fill="#808080" stroke="#2a2a2a" stroke-width="0.9" stroke-linejoin="round"/>
<polygon points="217.43,237.34 214.37,242.85 220.49,242.85" fill="#808080" stroke="#2a2a2a" stroke-width="0.9" stroke-linejoin="round"/>
<polygon points="250.15,261.14 247.09,266.65 253.21,266.65" fill="#808080" stroke="#2a2a2a" stroke-width="0.9" stroke-linejoin="round"/>
<polygon points="315.60,303.44 312.54,308.95 318.66,308.95" fill="#808080" stroke="#2a2a2a" stroke-width="0.9" stroke-linejoin="round"/>
<line x1="250.15" y1="270.10" x2="250.15" y2="276.10" stroke="#444" stroke-width="0.9" stroke-linecap="butt"/>
<line x1="248.85" y1="270.10" x2="251.45" y2="270.10" stroke="#444" stroke-width="0.9" stroke-linecap="butt"/>
<line x1="248.85" y1="276.10" x2="251.45" y2="276.10" stroke="#444" stroke-width="0.9" stroke-linecap="butt"/>
<polyline points="184.70,334.50 201.06,249.60 217.43,246.50 250.15,270.10 315.60,308.30" fill="none" stroke="#1a1a1a" stroke-width="2.1" stroke-linejoin="round"/>
<circle cx="184.70" cy="334.50" r="2.9" fill="#fff" stroke="#1a1a1a" stroke-width="1.2"/>
<circle cx="201.06" cy="249.60" r="2.9" fill="#fff" stroke="#1a1a1a" stroke-width="1.2"/>
<circle cx="217.43" cy="246.50" r="2.9" fill="#fff" stroke="#1a1a1a" stroke-width="1.2"/>
<circle cx="250.15" cy="270.10" r="2.9" fill="#fff" stroke="#1a1a1a" stroke-width="1.2"/>
<circle cx="315.60" cy="308.30" r="2.9" fill="#fff" stroke="#1a1a1a" stroke-width="1.2"/>
<polygon points="184.70,326.64 181.64,332.15 187.76,332.15" fill="#808080" stroke="#2a2a2a" stroke-width="0.9" stroke-linejoin="round"/>
<rect x="181.85" y="328.95" width="5.70" height="5.70" fill="#1c1c1c"/>
<polygon points="201.06,244.44 198.00,249.95 204.12,249.95" fill="#808080" stroke="#2a2a2a" stroke-width="0.9" stroke-linejoin="round"/>
<rect x="198.21" y="240.35" width="5.70" height="5.70" fill="#1c1c1c"/>
<polygon points="315.60,303.44 312.54,308.95 318.66,308.95" fill="#808080" stroke="#2a2a2a" stroke-width="0.9" stroke-linejoin="round"/>
<rect x="312.75" y="303.95" width="5.70" height="5.70" fill="#1c1c1c"/>
<text x="325.10" y="201.90" font-size="15.8" text-anchor="start" font-weight="bold" textLength="9.4" lengthAdjust="spacingAndGlyphs" fill="#000" stroke="#000" stroke-width="0.5">F</text>
<line x1="374.60" y1="198.30" x2="374.60" y2="352.20" stroke="#1a1a1a" stroke-width="1.4" stroke-linecap="butt"/>
<line x1="373.90" y1="351.50" x2="507.20" y2="351.50" stroke="#1a1a1a" stroke-width="1.4" stroke-linecap="butt"/>
<line x1="370.20" y1="199.50" x2="374.60" y2="199.50" stroke="#1a1a1a" stroke-width="1.1" stroke-linecap="butt"/>
<text x="368.00" y="202.67" font-size="8.8" text-anchor="end" textLength="18.5" lengthAdjust="spacingAndGlyphs" fill="#1a1a1a" stroke="#1a1a1a" stroke-width="0.55">5000</text>
<line x1="370.20" y1="230.10" x2="374.60" y2="230.10" stroke="#1a1a1a" stroke-width="1.1" stroke-linecap="butt"/>
<text x="368.00" y="233.27" font-size="8.8" text-anchor="end" textLength="18.5" lengthAdjust="spacingAndGlyphs" fill="#1a1a1a" stroke="#1a1a1a" stroke-width="0.55">4000</text>
<line x1="370.20" y1="260.50" x2="374.60" y2="260.50" stroke="#1a1a1a" stroke-width="1.1" stroke-linecap="butt"/>
<text x="368.00" y="263.67" font-size="8.8" text-anchor="end" textLength="18.5" lengthAdjust="spacingAndGlyphs" fill="#1a1a1a" stroke="#1a1a1a" stroke-width="0.55">3000</text>
<line x1="370.20" y1="291.00" x2="374.60" y2="291.00" stroke="#1a1a1a" stroke-width="1.1" stroke-linecap="butt"/>
<text x="368.00" y="294.17" font-size="8.8" text-anchor="end" textLength="18.5" lengthAdjust="spacingAndGlyphs" fill="#1a1a1a" stroke="#1a1a1a" stroke-width="0.55">2000</text>
<line x1="370.20" y1="321.30" x2="374.60" y2="321.30" stroke="#1a1a1a" stroke-width="1.1" stroke-linecap="butt"/>
<text x="368.00" y="324.47" font-size="8.8" text-anchor="end" textLength="18.5" lengthAdjust="spacingAndGlyphs" fill="#1a1a1a" stroke="#1a1a1a" stroke-width="0.55">1000</text>
<line x1="370.20" y1="351.50" x2="374.60" y2="351.50" stroke="#1a1a1a" stroke-width="1.1" stroke-linecap="butt"/>
<text x="368.00" y="354.67" font-size="8.8" text-anchor="end" textLength="4.6" lengthAdjust="spacingAndGlyphs" fill="#1a1a1a" stroke="#1a1a1a" stroke-width="0.55">0</text>
<line x1="374.80" y1="351.50" x2="374.80" y2="354.70" stroke="#1a1a1a" stroke-width="1.1" stroke-linecap="butt"/>
<text x="374.80" y="367.17" font-size="8.8" text-anchor="middle" textLength="4.6" lengthAdjust="spacingAndGlyphs" fill="#1a1a1a" stroke="#1a1a1a" stroke-width="0.55">0</text>
<line x1="407.68" y1="351.50" x2="407.68" y2="354.70" stroke="#1a1a1a" stroke-width="1.1" stroke-linecap="butt"/>
<text x="407.68" y="367.17" font-size="8.8" text-anchor="middle" textLength="9.2" lengthAdjust="spacingAndGlyphs" fill="#1a1a1a" stroke="#1a1a1a" stroke-width="0.55">30</text>
<line x1="440.55" y1="351.50" x2="440.55" y2="354.70" stroke="#1a1a1a" stroke-width="1.1" stroke-linecap="butt"/>
<text x="440.55" y="367.17" font-size="8.8" text-anchor="middle" textLength="9.2" lengthAdjust="spacingAndGlyphs" fill="#1a1a1a" stroke="#1a1a1a" stroke-width="0.55">60</text>
<line x1="473.43" y1="351.50" x2="473.43" y2="354.70" stroke="#1a1a1a" stroke-width="1.1" stroke-linecap="butt"/>
<text x="473.43" y="367.17" font-size="8.8" text-anchor="middle" textLength="9.2" lengthAdjust="spacingAndGlyphs" fill="#1a1a1a" stroke="#1a1a1a" stroke-width="0.55">90</text>
<line x1="506.30" y1="351.50" x2="506.30" y2="354.70" stroke="#1a1a1a" stroke-width="1.1" stroke-linecap="butt"/>
<text x="506.30" y="367.17" font-size="8.8" text-anchor="middle" textLength="13.9" lengthAdjust="spacingAndGlyphs" fill="#1a1a1a" stroke="#1a1a1a" stroke-width="0.55">120</text>
<text x="340.80" y="274.60" font-size="10.5" text-anchor="middle" transform="rotate(-90 340.80 274.60)" textLength="70.0" lengthAdjust="spacingAndGlyphs" fill="#1a1a1a" stroke="#1a1a1a" stroke-width="0.45">Insulin (pg/ml)</text>
<text x="442.00" y="380.20" font-size="10.5" text-anchor="middle" textLength="51.0" lengthAdjust="spacingAndGlyphs" fill="#1a1a1a" stroke="#1a1a1a" stroke-width="0.45">Time (min)</text>
<text x="364.45 369.35" y="319.08" font-size="8" font-weight="bold" text-anchor="middle" fill="#111" stroke="#111" stroke-width="0.7">**</text>
<text x="365.55 370.45" y="342.08" font-size="8" font-weight="bold" text-anchor="middle" fill="#111" stroke="#111" stroke-width="0.7">**</text>
<text x="369.70" y="360.08" font-size="8" font-weight="bold" text-anchor="middle" fill="#111" stroke="#111" stroke-width="0.7">*</text>
<text x="388.85 393.75" y="268.78" font-size="8" font-weight="bold" text-anchor="middle" fill="#111" stroke="#111" stroke-width="0.7">**</text>
<text x="386.40 391.30 396.20" y="321.28" font-size="8" font-weight="bold" text-anchor="middle" fill="#111" stroke="#111" stroke-width="0.7">***</text>
<text x="388.85 393.75" y="343.08" font-size="8" font-weight="bold" text-anchor="middle" fill="#111" stroke="#111" stroke-width="0.7">**</text>
<text x="403.30 408.20 413.10" y="300.28" font-size="8" font-weight="bold" text-anchor="middle" fill="#111" stroke="#111" stroke-width="0.7">***</text>
<text x="404.65 409.55" y="350.08" font-size="8" font-weight="bold" text-anchor="middle" fill="#111" stroke="#111" stroke-width="0.7">**</text>
<text x="435.60 440.50 445.40" y="296.48" font-size="8" font-weight="bold" text-anchor="middle" fill="#111" stroke="#111" stroke-width="0.7">***</text>
<text x="435.60 440.50 445.40" y="323.38" font-size="8" font-weight="bold" text-anchor="middle" fill="#111" stroke="#111" stroke-width="0.7">***</text>
<text x="437.45 442.35" y="343.08" font-size="8" font-weight="bold" text-anchor="middle" fill="#111" stroke="#111" stroke-width="0.7">**</text>
<text x="500.90 505.80 510.70" y="290.48" font-size="8" font-weight="bold" text-anchor="middle" fill="#111" stroke="#111" stroke-width="0.7">***</text>
<text x="500.90 505.80 510.70" y="312.48" font-size="8" font-weight="bold" text-anchor="middle" fill="#111" stroke="#111" stroke-width="0.7">***</text>
<text x="503.35 508.25" y="335.28" font-size="8" font-weight="bold" text-anchor="middle" fill="#111" stroke="#111" stroke-width="0.7">**</text>
<line x1="391.24" y1="326.30" x2="391.24" y2="336.30" stroke="#111" stroke-width="1.1" stroke-linecap="butt"/>
<line x1="388.04" y1="326.30" x2="394.44" y2="326.30" stroke="#111" stroke-width="1.1" stroke-linecap="butt"/>
<line x1="388.04" y1="336.30" x2="394.44" y2="336.30" stroke="#111" stroke-width="1.1" stroke-linecap="butt"/>
<line x1="407.68" y1="333.80" x2="407.68" y2="343.80" stroke="#111" stroke-width="1.1" stroke-linecap="butt"/>
<line x1="404.48" y1="333.80" x2="410.88" y2="333.80" stroke="#111" stroke-width="1.1" stroke-linecap="butt"/>
<line x1="404.48" y1="343.80" x2="410.88" y2="343.80" stroke="#111" stroke-width="1.1" stroke-linecap="butt"/>
<line x1="440.55" y1="324.60" x2="440.55" y2="336.60" stroke="#111" stroke-width="1.1" stroke-linecap="butt"/>
<line x1="437.35" y1="324.60" x2="443.75" y2="324.60" stroke="#111" stroke-width="1.1" stroke-linecap="butt"/>
<line x1="437.35" y1="336.60" x2="443.75" y2="336.60" stroke="#111" stroke-width="1.1" stroke-linecap="butt"/>
<line x1="506.30" y1="314.00" x2="506.30" y2="328.00" stroke="#111" stroke-width="1.1" stroke-linecap="butt"/>
<line x1="503.10" y1="314.00" x2="509.50" y2="314.00" stroke="#111" stroke-width="1.1" stroke-linecap="butt"/>
<line x1="503.10" y1="328.00" x2="509.50" y2="328.00" stroke="#111" stroke-width="1.1" stroke-linecap="butt"/>
<polyline points="374.80,345.70 391.24,331.30 407.68,338.80 440.55,330.60 506.30,321.00" fill="none" stroke="#1a1a1a" stroke-width="1.2" stroke-dasharray="3 2" stroke-linejoin="round"/>
<circle cx="374.80" cy="345.70" r="2.7" fill="#fff" stroke="#1a1a1a" stroke-width="1.1"/>
<circle cx="391.24" cy="331.30" r="2.7" fill="#fff" stroke="#1a1a1a" stroke-width="1.1"/>
<circle cx="407.68" cy="338.80" r="2.7" fill="#fff" stroke="#1a1a1a" stroke-width="1.1"/>
<circle cx="440.55" cy="330.60" r="2.7" fill="#fff" stroke="#1a1a1a" stroke-width="1.1"/>
<circle cx="506.30" cy="321.00" r="2.7" fill="#fff" stroke="#1a1a1a" stroke-width="1.1"/>
<line x1="391.24" y1="322.10" x2="391.24" y2="332.10" stroke="#111" stroke-width="1.1" stroke-linecap="butt"/>
<line x1="388.04" y1="322.10" x2="394.44" y2="322.10" stroke="#111" stroke-width="1.1" stroke-linecap="butt"/>
<line x1="388.04" y1="332.10" x2="394.44" y2="332.10" stroke="#111" stroke-width="1.1" stroke-linecap="butt"/>
<line x1="407.68" y1="328.50" x2="407.68" y2="338.50" stroke="#111" stroke-width="1.1" stroke-linecap="butt"/>
<line x1="404.48" y1="328.50" x2="410.88" y2="328.50" stroke="#111" stroke-width="1.1" stroke-linecap="butt"/>
<line x1="404.48" y1="338.50" x2="410.88" y2="338.50" stroke="#111" stroke-width="1.1" stroke-linecap="butt"/>
<line x1="440.55" y1="322.30" x2="440.55" y2="332.30" stroke="#111" stroke-width="1.1" stroke-linecap="butt"/>
<line x1="437.35" y1="322.30" x2="443.75" y2="322.30" stroke="#111" stroke-width="1.1" stroke-linecap="butt"/>
<line x1="437.35" y1="332.30" x2="443.75" y2="332.30" stroke="#111" stroke-width="1.1" stroke-linecap="butt"/>
<line x1="506.30" y1="314.50" x2="506.30" y2="326.50" stroke="#111" stroke-width="1.1" stroke-linecap="butt"/>
<line x1="503.10" y1="314.50" x2="509.50" y2="314.50" stroke="#111" stroke-width="1.1" stroke-linecap="butt"/>
<line x1="503.10" y1="326.50" x2="509.50" y2="326.50" stroke="#111" stroke-width="1.1" stroke-linecap="butt"/>
<polyline points="374.80,347.20 391.24,327.10 407.68,333.50 440.55,327.30 506.30,320.50" fill="none" stroke="#1a1a1a" stroke-width="1.3" stroke-linejoin="round"/>
<polygon points="374.80,344.24 371.84,349.57 377.76,349.57" fill="#808080" stroke="#2a2a2a" stroke-width="0.9" stroke-linejoin="round"/>
<polygon points="391.24,324.14 388.28,329.47 394.20,329.47" fill="#808080" stroke="#2a2a2a" stroke-width="0.9" stroke-linejoin="round"/>
<polygon points="407.68,330.54 404.72,335.87 410.63,335.87" fill="#808080" stroke="#2a2a2a" stroke-width="0.9" stroke-linejoin="round"/>
<polygon points="440.55,324.34 437.59,329.67 443.51,329.67" fill="#808080" stroke="#2a2a2a" stroke-width="0.9" stroke-linejoin="round"/>
<polygon points="506.30,317.54 503.34,322.87 509.26,322.87" fill="#808080" stroke="#2a2a2a" stroke-width="0.9" stroke-linejoin="round"/>
<line x1="374.80" y1="313.30" x2="374.80" y2="333.30" stroke="#111" stroke-width="1.1" stroke-linecap="butt"/>
<line x1="371.60" y1="313.30" x2="378.00" y2="313.30" stroke="#111" stroke-width="1.1" stroke-linecap="butt"/>
<line x1="371.60" y1="333.30" x2="378.00" y2="333.30" stroke="#111" stroke-width="1.1" stroke-linecap="butt"/>
<line x1="391.24" y1="267.40" x2="391.24" y2="284.00" stroke="#111" stroke-width="1.1" stroke-linecap="butt"/>
<line x1="388.04" y1="267.40" x2="394.44" y2="267.40" stroke="#111" stroke-width="1.1" stroke-linecap="butt"/>
<line x1="388.04" y1="284.00" x2="394.44" y2="284.00" stroke="#111" stroke-width="1.1" stroke-linecap="butt"/>
<line x1="407.68" y1="300.40" x2="407.68" y2="312.40" stroke="#111" stroke-width="1.1" stroke-linecap="butt"/>
<line x1="404.48" y1="300.40" x2="410.88" y2="300.40" stroke="#111" stroke-width="1.1" stroke-linecap="butt"/>
<line x1="404.48" y1="312.40" x2="410.88" y2="312.40" stroke="#111" stroke-width="1.1" stroke-linecap="butt"/>
<line x1="440.55" y1="295.20" x2="440.55" y2="305.20" stroke="#111" stroke-width="1.1" stroke-linecap="butt"/>
<line x1="437.35" y1="295.20" x2="443.75" y2="295.20" stroke="#111" stroke-width="1.1" stroke-linecap="butt"/>
<line x1="437.35" y1="305.20" x2="443.75" y2="305.20" stroke="#111" stroke-width="1.1" stroke-linecap="butt"/>
<line x1="506.30" y1="290.30" x2="506.30" y2="298.30" stroke="#111" stroke-width="1.1" stroke-linecap="butt"/>
<line x1="503.10" y1="290.30" x2="509.50" y2="290.30" stroke="#111" stroke-width="1.1" stroke-linecap="butt"/>
<line x1="503.10" y1="298.30" x2="509.50" y2="298.30" stroke="#111" stroke-width="1.1" stroke-linecap="butt"/>
<polyline points="374.80,323.30 391.24,276.00 407.68,306.40 440.55,300.20 506.30,294.30" fill="none" stroke="#1a1a1a" stroke-width="1.3" stroke-linejoin="round"/>
<rect x="371.67" y="320.17" width="6.27" height="6.27" fill="#1c1c1c"/>
<rect x="388.10" y="272.87" width="6.27" height="6.27" fill="#1c1c1c"/>
<rect x="404.54" y="303.26" width="6.27" height="6.27" fill="#1c1c1c"/>
<rect x="437.42" y="297.06" width="6.27" height="6.27" fill="#1c1c1c"/>
<rect x="503.17" y="291.17" width="6.27" height="6.27" fill="#1c1c1c"/>
<line x1="374.80" y1="290.60" x2="374.80" y2="308.60" stroke="#111" stroke-width="1.1" stroke-linecap="butt"/>
<line x1="371.60" y1="290.60" x2="378.00" y2="290.60" stroke="#111" stroke-width="1.1" stroke-linecap="butt"/>
<line x1="371.60" y1="308.60" x2="378.00" y2="308.60" stroke="#111" stroke-width="1.1" stroke-linecap="butt"/>
<line x1="391.24" y1="230.40" x2="391.24" y2="260.90" stroke="#111" stroke-width="1.1" stroke-linecap="butt"/>
<line x1="388.04" y1="230.40" x2="394.44" y2="230.40" stroke="#111" stroke-width="1.1" stroke-linecap="butt"/>
<line x1="388.04" y1="260.90" x2="394.44" y2="260.90" stroke="#111" stroke-width="1.1" stroke-linecap="butt"/>
<line x1="407.68" y1="260.60" x2="407.68" y2="286.50" stroke="#111" stroke-width="1.1" stroke-linecap="butt"/>
<line x1="404.48" y1="260.60" x2="410.88" y2="260.60" stroke="#111" stroke-width="1.1" stroke-linecap="butt"/>
<line x1="404.48" y1="286.50" x2="410.88" y2="286.50" stroke="#111" stroke-width="1.1" stroke-linecap="butt"/>
<line x1="440.55" y1="269.80" x2="440.55" y2="285.80" stroke="#111" stroke-width="1.1" stroke-linecap="butt"/>
<line x1="437.35" y1="269.80" x2="443.75" y2="269.80" stroke="#111" stroke-width="1.1" stroke-linecap="butt"/>
<line x1="437.35" y1="285.80" x2="443.75" y2="285.80" stroke="#111" stroke-width="1.1" stroke-linecap="butt"/>
<line x1="506.30" y1="265.60" x2="506.30" y2="277.60" stroke="#111" stroke-width="1.1" stroke-linecap="butt"/>
<line x1="503.10" y1="265.60" x2="509.50" y2="265.60" stroke="#111" stroke-width="1.1" stroke-linecap="butt"/>
<line x1="503.10" y1="277.60" x2="509.50" y2="277.60" stroke="#111" stroke-width="1.1" stroke-linecap="butt"/>
<polyline points="374.80,299.60 391.24,245.60 407.68,273.60 440.55,277.80 506.30,271.60" fill="none" stroke="#1a1a1a" stroke-width="1.3" stroke-linejoin="round"/>
<circle cx="374.80" cy="299.60" r="2.7" fill="#fff" stroke="#1a1a1a" stroke-width="1.1"/>
<circle cx="391.24" cy="245.60" r="2.7" fill="#fff" stroke="#1a1a1a" stroke-width="1.1"/>
<circle cx="407.68" cy="273.60" r="2.7" fill="#fff" stroke="#1a1a1a" stroke-width="1.1"/>
<circle cx="440.55" cy="277.80" r="2.7" fill="#fff" stroke="#1a1a1a" stroke-width="1.1"/>
<circle cx="506.30" cy="271.60" r="2.7" fill="#fff" stroke="#1a1a1a" stroke-width="1.1"/>
<text x="0.30" y="406.10" font-size="15.8" text-anchor="start" font-weight="bold" textLength="11.2" lengthAdjust="spacingAndGlyphs" fill="#000" stroke="#000" stroke-width="0.5">G</text>
<line x1="45.30" y1="413.70" x2="45.30" y2="565.90" stroke="#1a1a1a" stroke-width="1.2" stroke-linecap="butt"/>
<line x1="44.70" y1="565.30" x2="228.00" y2="565.30" stroke="#1a1a1a" stroke-width="1.2" stroke-linecap="butt"/>
<line x1="41.30" y1="414.90" x2="45.30" y2="414.90" stroke="#1a1a1a" stroke-width="1.1" stroke-linecap="butt"/>
<text x="38.30" y="418.07" font-size="8.8" text-anchor="end" textLength="9.2" lengthAdjust="spacingAndGlyphs" fill="#1a1a1a" stroke="#1a1a1a" stroke-width="0.55">10</text>
<line x1="41.30" y1="490.10" x2="45.30" y2="490.10" stroke="#1a1a1a" stroke-width="1.1" stroke-linecap="butt"/>
<text x="38.30" y="493.27" font-size="8.8" text-anchor="end" textLength="4.6" lengthAdjust="spacingAndGlyphs" fill="#1a1a1a" stroke="#1a1a1a" stroke-width="0.55">5</text>
<line x1="41.30" y1="565.30" x2="45.30" y2="565.30" stroke="#1a1a1a" stroke-width="1.1" stroke-linecap="butt"/>
<text x="38.30" y="568.47" font-size="8.8" text-anchor="end" textLength="4.6" lengthAdjust="spacingAndGlyphs" fill="#1a1a1a" stroke="#1a1a1a" stroke-width="0.55">0</text>
<text x="24.60" y="577.90" font-size="10" text-anchor="start" transform="rotate(-90 24.60 577.90)" textLength="133.5" lengthAdjust="spacingAndGlyphs" fill="#1a1a1a" stroke="#1a1a1a" stroke-width="0.45">Insulin secretion (% content</text>
<text x="25.40" y="441.80" font-size="13.5" text-anchor="start" transform="rotate(-90 25.40 441.80)" textLength="8.6" lengthAdjust="spacingAndGlyphs" fill="#1a1a1a" stroke="#1a1a1a" stroke-width="0.3">×</text>
<text x="24.60" y="430.60" font-size="10" text-anchor="start" transform="rotate(-90 24.60 430.60)" textLength="11.6" lengthAdjust="spacingAndGlyphs" fill="#1a1a1a" stroke="#1a1a1a" stroke-width="0.45">10</text>
<text x="18.60" y="419.20" font-size="6.5" text-anchor="start" transform="rotate(-90 18.60 419.20)" textLength="6.2" lengthAdjust="spacingAndGlyphs" fill="#1a1a1a" stroke="#1a1a1a" stroke-width="0.35">-3</text>
<text x="24.60" y="413.60" font-size="10" text-anchor="start" transform="rotate(-90 24.60 413.60)" textLength="3.8" lengthAdjust="spacingAndGlyphs" fill="#1a1a1a" stroke="#1a1a1a" stroke-width="0.45">)</text>
<path d="M50.00,565.3 V556.30 H63.05" fill="none" stroke="#1a1a1a" stroke-width="1.1" stroke-dasharray="1.6 1.2"/>
<line x1="56.52" y1="554.30" x2="56.52" y2="558.30" stroke="#111" stroke-width="1.0" stroke-linecap="butt"/>
<line x1="54.32" y1="554.30" x2="58.73" y2="554.30" stroke="#111" stroke-width="1.0" stroke-linecap="butt"/>
<line x1="54.32" y1="558.30" x2="58.73" y2="558.30" stroke="#111" stroke-width="1.0" stroke-linecap="butt"/>
<rect x="63.05" y="545.80" width="13.05" height="19.50" fill="#fff" stroke="#1a1a1a" stroke-width="1.2"/>
<line x1="69.57" y1="540.00" x2="69.57" y2="552.00" stroke="#111" stroke-width="1.25" stroke-linecap="butt"/>
<line x1="66.87" y1="540.00" x2="72.27" y2="540.00" stroke="#111" stroke-width="1.25" stroke-linecap="butt"/>
<line x1="66.87" y1="552.00" x2="72.27" y2="552.00" stroke="#111" stroke-width="1.25" stroke-linecap="butt"/>
<line x1="82.62" y1="543.80" x2="82.62" y2="547.50" stroke="#111" stroke-width="1.25" stroke-linecap="butt"/>
<line x1="79.92" y1="543.80" x2="85.33" y2="543.80" stroke="#111" stroke-width="1.25" stroke-linecap="butt"/>
<line x1="79.92" y1="547.50" x2="85.33" y2="547.50" stroke="#111" stroke-width="1.25" stroke-linecap="butt"/>
<rect x="76.10" y="547.50" width="13.05" height="17.80" fill="#0c0c0c" stroke="#1a1a1a" stroke-width="0.6"/>
<rect x="89.15" y="548.80" width="13.05" height="16.50" fill="#5e5e5e" stroke="#1a1a1a" stroke-width="0.6"/>
<line x1="95.68" y1="545.50" x2="95.68" y2="552.50" stroke="#111" stroke-width="1.25" stroke-linecap="butt"/>
<line x1="92.98" y1="545.50" x2="98.38" y2="545.50" stroke="#111" stroke-width="1.25" stroke-linecap="butt"/>
<line x1="92.98" y1="552.50" x2="98.38" y2="552.50" stroke="#111" stroke-width="1.25" stroke-linecap="butt"/>
<path d="M107.70,565.3 V547.80 H120.75" fill="none" stroke="#1a1a1a" stroke-width="1.1" stroke-dasharray="1.6 1.2"/>
<line x1="114.22" y1="545.80" x2="114.22" y2="549.80" stroke="#111" stroke-width="1.0" stroke-linecap="butt"/>
<line x1="112.02" y1="545.80" x2="116.42" y2="545.80" stroke="#111" stroke-width="1.0" stroke-linecap="butt"/>
<line x1="112.02" y1="549.80" x2="116.42" y2="549.80" stroke="#111" stroke-width="1.0" stroke-linecap="butt"/>
<rect x="120.75" y="507.90" width="13.05" height="57.40" fill="#fff" stroke="#1a1a1a" stroke-width="1.2"/>
<line x1="127.28" y1="500.30" x2="127.28" y2="516.00" stroke="#111" stroke-width="1.25" stroke-linecap="butt"/>
<line x1="124.58" y1="500.30" x2="129.97" y2="500.30" stroke="#111" stroke-width="1.25" stroke-linecap="butt"/>
<line x1="124.58" y1="516.00" x2="129.97" y2="516.00" stroke="#111" stroke-width="1.25" stroke-linecap="butt"/>
<line x1="140.33" y1="492.40" x2="140.33" y2="497.40" stroke="#111" stroke-width="1.25" stroke-linecap="butt"/>
<line x1="137.63" y1="492.40" x2="143.03" y2="492.40" stroke="#111" stroke-width="1.25" stroke-linecap="butt"/>
<line x1="137.63" y1="497.40" x2="143.03" y2="497.40" stroke="#111" stroke-width="1.25" stroke-linecap="butt"/>
<rect x="133.80" y="497.40" width="13.05" height="67.90" fill="#0c0c0c" stroke="#1a1a1a" stroke-width="0.6"/>
<rect x="146.85" y="532.50" width="13.05" height="32.80" fill="#5e5e5e" stroke="#1a1a1a" stroke-width="0.6"/>
<line x1="153.38" y1="528.50" x2="153.38" y2="536.40" stroke="#111" stroke-width="1.25" stroke-linecap="butt"/>
<line x1="150.68" y1="528.50" x2="156.08" y2="528.50" stroke="#111" stroke-width="1.25" stroke-linecap="butt"/>
<line x1="150.68" y1="536.40" x2="156.08" y2="536.40" stroke="#111" stroke-width="1.25" stroke-linecap="butt"/>
<path d="M168.30,565.3 V524.00 H181.35" fill="none" stroke="#1a1a1a" stroke-width="1.1" stroke-dasharray="1.6 1.2"/>
<line x1="174.83" y1="519.60" x2="174.83" y2="528.80" stroke="#111" stroke-width="1.0" stroke-linecap="butt"/>
<line x1="172.63" y1="519.60" x2="177.03" y2="519.60" stroke="#111" stroke-width="1.0" stroke-linecap="butt"/>
<line x1="172.63" y1="528.80" x2="177.03" y2="528.80" stroke="#111" stroke-width="1.0" stroke-linecap="butt"/>
<rect x="181.35" y="470.20" width="13.05" height="95.10" fill="#fff" stroke="#1a1a1a" stroke-width="1.2"/>
<line x1="187.88" y1="465.30" x2="187.88" y2="475.70" stroke="#111" stroke-width="1.25" stroke-linecap="butt"/>
<line x1="185.18" y1="465.30" x2="190.58" y2="465.30" stroke="#111" stroke-width="1.25" stroke-linecap="butt"/>
<line x1="185.18" y1="475.70" x2="190.58" y2="475.70" stroke="#111" stroke-width="1.25" stroke-linecap="butt"/>
<line x1="200.93" y1="478.30" x2="200.93" y2="489.80" stroke="#111" stroke-width="1.25" stroke-linecap="butt"/>
<line x1="198.23" y1="478.30" x2="203.62" y2="478.30" stroke="#111" stroke-width="1.25" stroke-linecap="butt"/>
<line x1="198.23" y1="489.80" x2="203.62" y2="489.80" stroke="#111" stroke-width="1.25" stroke-linecap="butt"/>
<rect x="194.40" y="489.80" width="13.05" height="75.50" fill="#0c0c0c" stroke="#1a1a1a" stroke-width="0.6"/>
<rect x="207.45" y="511.00" width="13.05" height="54.30" fill="#5e5e5e" stroke="#1a1a1a" stroke-width="0.6"/>
<line x1="213.98" y1="504.40" x2="213.98" y2="516.80" stroke="#111" stroke-width="1.25" stroke-linecap="butt"/>
<line x1="211.28" y1="504.40" x2="216.68" y2="504.40" stroke="#111" stroke-width="1.25" stroke-linecap="butt"/>
<line x1="211.28" y1="516.80" x2="216.68" y2="516.80" stroke="#111" stroke-width="1.25" stroke-linecap="butt"/>
<text x="77.80" y="580.00" font-size="10.8" text-anchor="middle" textLength="47.0" lengthAdjust="spacingAndGlyphs" fill="#1a1a1a" stroke="#1a1a1a" stroke-width="0.4">5.5 mM G</text>
<text x="135.10" y="580.00" font-size="10.8" text-anchor="middle" textLength="52.5" lengthAdjust="spacingAndGlyphs" fill="#1a1a1a" stroke="#1a1a1a" stroke-width="0.4">11.1 mM G</text>
<text x="198.20" y="580.00" font-size="10.8" text-anchor="middle" textLength="52.0" lengthAdjust="spacingAndGlyphs" fill="#1a1a1a" stroke="#1a1a1a" stroke-width="0.4">11.1 mM G</text>
<text x="197.60" y="591.50" font-size="10.8" text-anchor="middle" textLength="20.5" lengthAdjust="spacingAndGlyphs" fill="#1a1a1a" stroke="#1a1a1a" stroke-width="0.4">+GIP</text>
<path d="M115.00,481.30 V475.30 Q115.00,474.50 115.80,474.50 H125.50 Q126.30,474.50 126.30,475.30 V481.30" fill="none" stroke="#111" stroke-width="1.4"/>
<path d="M128.00,481.30 V475.30 Q128.00,474.50 128.80,474.50 H155.40 Q156.20,474.50 156.20,475.30 V481.30" fill="none" stroke="#111" stroke-width="1.4"/>
<line x1="141.30" y1="474.50" x2="141.30" y2="481.30" stroke="#111" stroke-width="1.4" stroke-linecap="butt"/>
<path d="M127.60,468.70 V462.10 Q127.60,461.30 128.40,461.30 H155.40 Q156.20,461.30 156.20,462.10 V468.70" fill="none" stroke="#111" stroke-width="1.4"/>
<text x="110.10 116.50 122.90" y="475.07" font-size="12.5" font-weight="bold" text-anchor="middle" fill="#111" stroke="#111" stroke-width="0.3">***</text>
<text x="143.80" y="463.07" font-size="12.5" font-weight="bold" text-anchor="middle" fill="#111" stroke="#111" stroke-width="0.3">*</text>
<text x="145.00 151.40" y="475.07" font-size="12.5" font-weight="bold" text-anchor="middle" fill="#111" stroke="#111" stroke-width="0.3">**</text>
<path d="M174.50,453.80 V447.80 Q174.50,447.00 175.30,447.00 H184.90 Q185.70,447.00 185.70,447.80 V453.80" fill="none" stroke="#111" stroke-width="1.4"/>
<path d="M187.00,453.80 V447.80 Q187.00,447.00 187.80,447.00 H215.40 Q216.20,447.00 216.20,447.80 V453.80" fill="none" stroke="#111" stroke-width="1.4"/>
<line x1="201.30" y1="447.00" x2="201.30" y2="453.80" stroke="#111" stroke-width="1.4" stroke-linecap="butt"/>
<path d="M187.00,441.30 V435.30 Q187.00,434.50 187.80,434.50 H215.40 Q216.20,434.50 216.20,435.30 V441.30" fill="none" stroke="#111" stroke-width="1.4"/>
<text x="168.90 175.30 181.70" y="449.38" font-size="12.5" font-weight="bold" text-anchor="middle" fill="#111" stroke="#111" stroke-width="0.3">***</text>
<text x="201.30" y="436.38" font-size="12.5" font-weight="bold" text-anchor="middle" fill="#111" stroke="#111" stroke-width="0.3">*</text>
<text x="234.00" y="406.20" font-size="15.8" text-anchor="start" font-weight="bold" textLength="11.4" lengthAdjust="spacingAndGlyphs" fill="#000" stroke="#000" stroke-width="0.5">H</text>
<line x1="264.30" y1="424.90" x2="264.30" y2="563.30" stroke="#1a1a1a" stroke-width="1.4" stroke-linecap="butt"/>
<line x1="263.60" y1="562.60" x2="370.60" y2="562.60" stroke="#1a1a1a" stroke-width="1.4" stroke-linecap="butt"/>
<line x1="261.30" y1="426.10" x2="264.30" y2="426.10" stroke="#1a1a1a" stroke-width="1.1" stroke-linecap="butt"/>
<text x="259.90" y="429.27" font-size="8.8" text-anchor="end" textLength="15.7" lengthAdjust="spacingAndGlyphs" fill="#1a1a1a" stroke="#1a1a1a" stroke-width="0.55">0.06</text>
<line x1="261.30" y1="460.20" x2="264.30" y2="460.20" stroke="#1a1a1a" stroke-width="1.1" stroke-linecap="butt"/>
<line x1="261.30" y1="494.50" x2="264.30" y2="494.50" stroke="#1a1a1a" stroke-width="1.1" stroke-linecap="butt"/>
<text x="259.90" y="497.67" font-size="8.8" text-anchor="end" textLength="15.7" lengthAdjust="spacingAndGlyphs" fill="#1a1a1a" stroke="#1a1a1a" stroke-width="0.55">0.03</text>
<line x1="261.30" y1="528.50" x2="264.30" y2="528.50" stroke="#1a1a1a" stroke-width="1.1" stroke-linecap="butt"/>
<line x1="261.30" y1="562.60" x2="264.30" y2="562.60" stroke="#1a1a1a" stroke-width="1.1" stroke-linecap="butt"/>
<text x="257.60" y="566.57" font-size="8.8" text-anchor="end" textLength="4.6" lengthAdjust="spacingAndGlyphs" fill="#1a1a1a" stroke="#1a1a1a" stroke-width="0.55">0</text>
<text x="242.00" y="497.10" font-size="10" text-anchor="middle" transform="rotate(-90 242.00 497.10)" textLength="148.5" lengthAdjust="spacingAndGlyphs" fill="#1a1a1a" stroke="#1a1a1a" stroke-width="0.45">β-cell area/total pancreas area</text>
<rect x="288.80" y="461.30" width="14.00" height="101.30" fill="#fff" stroke="#1a1a1a" stroke-width="1.3"/>
<line x1="281.90" y1="472.00" x2="281.90" y2="502.10" stroke="#222" stroke-width="1.1" stroke-linecap="butt"/>
<line x1="280.40" y1="472.00" x2="283.40" y2="472.00" stroke="#222" stroke-width="1.1" stroke-linecap="butt"/>
<line x1="280.40" y1="502.10" x2="283.40" y2="502.10" stroke="#222" stroke-width="1.1" stroke-linecap="butt"/>
<path d="M274.80,562.60 V487.70 H288.80 V562.60" fill="none" stroke="#1a1a1a" stroke-width="1.4" stroke-dasharray="2.6 1.4"/>
<line x1="296.00" y1="445.90" x2="296.00" y2="477.00" stroke="#222" stroke-width="1.1" stroke-linecap="butt"/>
<line x1="294.50" y1="445.90" x2="297.50" y2="445.90" stroke="#222" stroke-width="1.1" stroke-linecap="butt"/>
<line x1="294.50" y1="477.00" x2="297.50" y2="477.00" stroke="#222" stroke-width="1.1" stroke-linecap="butt"/>
<line x1="323.40" y1="464.30" x2="323.40" y2="472.00" stroke="#222" stroke-width="1.1" stroke-linecap="butt"/>
<line x1="321.90" y1="464.30" x2="324.90" y2="464.30" stroke="#222" stroke-width="1.1" stroke-linecap="butt"/>
<line x1="321.90" y1="472.00" x2="324.90" y2="472.00" stroke="#222" stroke-width="1.1" stroke-linecap="butt"/>
<rect x="316.30" y="471.30" width="14.00" height="91.30" fill="#0c0c0c" stroke="#1a1a1a" stroke-width="0.6"/>
<rect x="345.1" y="501.5" width="13.8" height="61.1" fill="#8e8e8e" stroke="#444" stroke-width="0.7"/>
<line x1="351.60" y1="487.10" x2="351.60" y2="514.50" stroke="#222" stroke-width="1.1" stroke-linecap="butt"/>
<line x1="350.10" y1="487.10" x2="353.10" y2="487.10" stroke="#222" stroke-width="1.1" stroke-linecap="butt"/>
<line x1="350.10" y1="514.50" x2="353.10" y2="514.50" stroke="#222" stroke-width="1.1" stroke-linecap="butt"/>
<path d="M280.20,435.20 V428.60 Q280.20,427.80 281.00,427.80 H294.50 Q295.30,427.80 295.30,428.60 V435.20" fill="none" stroke="#2a2a2a" stroke-width="1.2"/>
<path d="M297.00,435.20 V428.60 Q297.00,427.80 297.80,427.80 H357.10 Q357.90,427.80 357.90,428.60 V435.20" fill="none" stroke="#2a2a2a" stroke-width="1.2"/>
<line x1="326.40" y1="427.80" x2="326.40" y2="435.20" stroke="#2a2a2a" stroke-width="1.2" stroke-linecap="butt"/>
<path d="M297.00,423.20 V416.60 Q297.00,415.80 297.80,415.80 H357.10 Q357.90,415.80 357.90,416.60 V423.20" fill="none" stroke="#2a2a2a" stroke-width="1.2"/>
<text x="341.20" y="428.88" font-size="12.5" font-weight="bold" text-anchor="middle" fill="#111" stroke="#111" stroke-width="0.3">*</text>
<text x="324.40" y="416.38" font-size="12.5" font-weight="bold" text-anchor="middle" fill="#111" stroke="#111" stroke-width="0.3">*</text>
<rect x="289.20" y="566.20" width="81.20" height="11.00" fill="#a3a3a3"/>
<rect x="265.40" y="566.20" width="105.00" height="11.00" fill="none" stroke="#1a1a1a" stroke-width="1.5"/>
<line x1="289.20" y1="566.20" x2="289.20" y2="577.20" stroke="#1a1a1a" stroke-width="1.2" stroke-linecap="butt"/>
<text x="277.90" y="575.30" font-size="9.6" text-anchor="middle" textLength="18.3" lengthAdjust="spacingAndGlyphs" fill="#1a1a1a" stroke="#1a1a1a" stroke-width="0.45">CFD</text>
<text x="330.00" y="575.30" font-size="9.6" text-anchor="middle" textLength="18.4" lengthAdjust="spacingAndGlyphs" fill="#1a1a1a" stroke="#1a1a1a" stroke-width="0.45">HFD</text>
<text x="286.40" y="593.10" font-size="10.3" text-anchor="middle" textLength="13.6" lengthAdjust="spacingAndGlyphs" fill="#1a1a1a" stroke="#1a1a1a" stroke-width="0.5">WT</text>
<text x="318.70" y="593.10" font-size="10.3" text-anchor="middle" textLength="13.6" lengthAdjust="spacingAndGlyphs" fill="#1a1a1a" stroke="#1a1a1a" stroke-width="0.5">GIP</text>
<text x="351.00" y="593.10" font-size="10.3" text-anchor="middle" textLength="13.6" lengthAdjust="spacingAndGlyphs" fill="#1a1a1a" stroke="#1a1a1a" stroke-width="0.5">GIP</text>
<text x="333.40" y="585.20" font-size="6.4" text-anchor="middle" font-weight="bold" textLength="16.2" lengthAdjust="spacingAndGlyphs" fill="#1a1a1a" stroke="#1a1a1a" stroke-width="0.15">gfp /+</text>
<text x="367.30" y="585.60" font-size="6.4" text-anchor="middle" font-weight="bold" textLength="20.8" lengthAdjust="spacingAndGlyphs" fill="#1a1a1a" stroke="#1a1a1a" stroke-width="0.15">gfp/gfp</text>
<text x="386.60" y="405.90" font-size="15.8" text-anchor="start" font-weight="bold" textLength="3.8" lengthAdjust="spacingAndGlyphs" fill="#000" stroke="#000" stroke-width="0.5">I</text>
<line x1="407.60" y1="421.30" x2="407.60" y2="559.50" stroke="#1a1a1a" stroke-width="1.4" stroke-linecap="butt"/>
<line x1="406.90" y1="558.80" x2="514.60" y2="558.80" stroke="#1a1a1a" stroke-width="1.4" stroke-linecap="butt"/>
<line x1="404.20" y1="422.50" x2="407.60" y2="422.50" stroke="#1a1a1a" stroke-width="1.1" stroke-linecap="butt"/>
<text x="401.20" y="425.67" font-size="8.8" text-anchor="end" textLength="4.6" lengthAdjust="spacingAndGlyphs" fill="#1a1a1a" stroke="#1a1a1a" stroke-width="0.55">2</text>
<line x1="404.20" y1="456.60" x2="407.60" y2="456.60" stroke="#1a1a1a" stroke-width="1.1" stroke-linecap="butt"/>
<line x1="404.20" y1="491.00" x2="407.60" y2="491.00" stroke="#1a1a1a" stroke-width="1.1" stroke-linecap="butt"/>
<text x="401.20" y="494.17" font-size="8.8" text-anchor="end" textLength="4.6" lengthAdjust="spacingAndGlyphs" fill="#1a1a1a" stroke="#1a1a1a" stroke-width="0.55">1</text>
<line x1="404.20" y1="525.00" x2="407.60" y2="525.00" stroke="#1a1a1a" stroke-width="1.1" stroke-linecap="butt"/>
<line x1="404.20" y1="558.80" x2="407.60" y2="558.80" stroke="#1a1a1a" stroke-width="1.1" stroke-linecap="butt"/>
<text x="401.20" y="561.97" font-size="8.8" text-anchor="end" textLength="4.6" lengthAdjust="spacingAndGlyphs" fill="#1a1a1a" stroke="#1a1a1a" stroke-width="0.55">0</text>
<text x="393.00" y="499.60" font-size="10" text-anchor="middle" transform="rotate(-90 393.00 499.60)" textLength="134.0" lengthAdjust="spacingAndGlyphs" fill="#1a1a1a" stroke="#1a1a1a" stroke-width="0.45">GIPR mRNA / GAPDH mRNA</text>
<rect x="432.10" y="484.40" width="14.00" height="74.40" fill="#fff" stroke="#1a1a1a" stroke-width="1.3"/>
<line x1="424.40" y1="474.30" x2="424.40" y2="500.00" stroke="#222" stroke-width="1.1" stroke-linecap="butt"/>
<line x1="422.90" y1="474.30" x2="425.90" y2="474.30" stroke="#222" stroke-width="1.1" stroke-linecap="butt"/>
<line x1="422.90" y1="500.00" x2="425.90" y2="500.00" stroke="#222" stroke-width="1.1" stroke-linecap="butt"/>
<path d="M418.00,558.80 V487.70 H432.10 V558.80" fill="none" stroke="#1a1a1a" stroke-width="1.4" stroke-dasharray="2.6 1.4"/>
<line x1="439.60" y1="467.60" x2="439.60" y2="501.50" stroke="#222" stroke-width="1.1" stroke-linecap="butt"/>
<line x1="438.10" y1="467.60" x2="441.10" y2="467.60" stroke="#222" stroke-width="1.1" stroke-linecap="butt"/>
<line x1="438.10" y1="501.50" x2="441.10" y2="501.50" stroke="#222" stroke-width="1.1" stroke-linecap="butt"/>
<line x1="467.10" y1="454.60" x2="467.10" y2="470.00" stroke="#222" stroke-width="1.1" stroke-linecap="butt"/>
<line x1="465.60" y1="454.60" x2="468.60" y2="454.60" stroke="#222" stroke-width="1.1" stroke-linecap="butt"/>
<line x1="465.60" y1="470.00" x2="468.60" y2="470.00" stroke="#222" stroke-width="1.1" stroke-linecap="butt"/>
<rect x="460.60" y="469.70" width="14.00" height="89.10" fill="#0c0c0c" stroke="#1a1a1a" stroke-width="0.6"/>
<rect x="488.4" y="526.2" width="13.8" height="32.6" fill="#8e8e8e" stroke="#444" stroke-width="0.7"/>
<line x1="495.50" y1="518.20" x2="495.50" y2="533.90" stroke="#222" stroke-width="1.1" stroke-linecap="butt"/>
<line x1="494.00" y1="518.20" x2="497.00" y2="518.20" stroke="#222" stroke-width="1.1" stroke-linecap="butt"/>
<line x1="494.00" y1="533.90" x2="497.00" y2="533.90" stroke="#222" stroke-width="1.1" stroke-linecap="butt"/>
<path d="M424.20,448.00 V442.00 Q424.20,441.20 425.00,441.20 H438.20 Q439.00,441.20 439.00,442.00 V448.00" fill="none" stroke="#2a2a2a" stroke-width="1.2"/>
<path d="M440.40,448.00 V442.00 Q440.40,441.20 441.20,441.20 H494.70 Q495.50,441.20 495.50,442.00 V448.00" fill="none" stroke="#2a2a2a" stroke-width="1.2"/>
<line x1="467.80" y1="441.20" x2="467.80" y2="448.00" stroke="#2a2a2a" stroke-width="1.2" stroke-linecap="butt"/>
<path d="M440.20,436.20 V429.20 Q440.20,428.40 441.00,428.40 H494.70 Q495.50,428.40 495.50,429.20 V436.20" fill="none" stroke="#2a2a2a" stroke-width="1.2"/>
<text x="483.80" y="442.18" font-size="12.5" font-weight="bold" text-anchor="middle" fill="#111" stroke="#111" stroke-width="0.3">*</text>
<rect x="432.50" y="562.90" width="82.10" height="10.80" fill="#a3a3a3"/>
<rect x="409.20" y="562.90" width="105.40" height="10.80" fill="none" stroke="#1a1a1a" stroke-width="1.5"/>
<line x1="432.50" y1="562.90" x2="432.50" y2="573.70" stroke="#1a1a1a" stroke-width="1.2" stroke-linecap="butt"/>
<text x="421.00" y="572.00" font-size="9.6" text-anchor="middle" textLength="18.3" lengthAdjust="spacingAndGlyphs" fill="#1a1a1a" stroke="#1a1a1a" stroke-width="0.45">CFD</text>
<text x="472.50" y="572.00" font-size="9.6" text-anchor="middle" textLength="18.4" lengthAdjust="spacingAndGlyphs" fill="#1a1a1a" stroke="#1a1a1a" stroke-width="0.45">HFD</text>
<text x="429.80" y="589.40" font-size="10.3" text-anchor="middle" textLength="14.9" lengthAdjust="spacingAndGlyphs" fill="#1a1a1a" stroke="#1a1a1a" stroke-width="0.5">WT</text>
<text x="462.60" y="589.40" font-size="10.3" text-anchor="middle" textLength="13.8" lengthAdjust="spacingAndGlyphs" fill="#1a1a1a" stroke="#1a1a1a" stroke-width="0.5">GIP</text>
<text x="494.30" y="589.40" font-size="10.3" text-anchor="middle" textLength="13.8" lengthAdjust="spacingAndGlyphs" fill="#1a1a1a" stroke="#1a1a1a" stroke-width="0.5">GIP</text>
<text x="475.40" y="579.80" font-size="6.4" text-anchor="middle" font-weight="bold" textLength="15.5" lengthAdjust="spacingAndGlyphs" fill="#1a1a1a" stroke="#1a1a1a" stroke-width="0.15">gfp /+</text>
<text x="510.00" y="582.20" font-size="6.4" text-anchor="middle" font-weight="bold" textLength="20.3" lengthAdjust="spacingAndGlyphs" fill="#1a1a1a" stroke="#1a1a1a" stroke-width="0.15">gfp/gfp</text>
</svg>
</body></html>
